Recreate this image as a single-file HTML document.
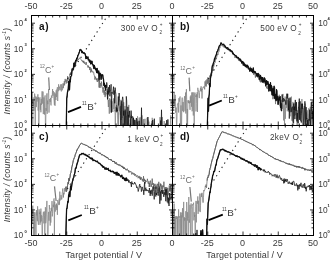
<!DOCTYPE html>
<html><head><meta charset="utf-8"><style>
html,body{margin:0;padding:0;background:#fff;width:333px;height:261px;overflow:hidden}
svg{display:block}
</style></head><body>
<svg width="333" height="261" viewBox="0 0 333 261">
<defs><clipPath id="c3115"><rect x="31.5" y="15.5" width="141" height="110"/></clipPath><clipPath id="c17215"><rect x="172.5" y="15.5" width="141" height="110"/></clipPath><clipPath id="c31125"><rect x="31.5" y="125.5" width="141" height="110"/></clipPath><clipPath id="c172125"><rect x="172.5" y="125.5" width="141" height="110"/></clipPath><linearGradient id="g0" gradientUnits="userSpaceOnUse" x1="31" y1="0" x2="172" y2="0"><stop offset="0.000" stop-color="#858585"/><stop offset="0.206" stop-color="#858585"/><stop offset="0.291" stop-color="#5a5a5a"/><stop offset="0.489" stop-color="#5a5a5a"/><stop offset="0.596" stop-color="#858585"/><stop offset="1.000" stop-color="#858585"/></linearGradient><linearGradient id="g1" gradientUnits="userSpaceOnUse" x1="172" y1="0" x2="313" y2="0"><stop offset="0.000" stop-color="#858585"/><stop offset="0.199" stop-color="#858585"/><stop offset="0.284" stop-color="#5a5a5a"/><stop offset="0.660" stop-color="#5a5a5a"/><stop offset="0.801" stop-color="#858585"/><stop offset="1.000" stop-color="#858585"/></linearGradient><linearGradient id="g2" gradientUnits="userSpaceOnUse" x1="31" y1="0" x2="172" y2="0"><stop offset="0.000" stop-color="#858585"/><stop offset="0.206" stop-color="#858585"/><stop offset="0.277" stop-color="#5a5a5a"/><stop offset="1.000" stop-color="#5a5a5a"/></linearGradient><linearGradient id="g3" gradientUnits="userSpaceOnUse" x1="172" y1="0" x2="313" y2="0"><stop offset="0.000" stop-color="#858585"/><stop offset="0.199" stop-color="#858585"/><stop offset="0.270" stop-color="#5a5a5a"/><stop offset="1.000" stop-color="#5a5a5a"/></linearGradient></defs>
<g fill="none" stroke-linejoin="round"><polyline clip-path="url(#c3115)" points="31.0,94.1 31.3,111.8 31.6,96.5 31.9,102.7 32.2,92.6 32.5,101.8 32.8,128.0 33.1,97.4 33.4,105.2 33.7,103.3 34.0,110.9 34.3,101.8 34.6,93.6 34.9,95.0 35.2,128.0 35.5,104.1 35.8,96.3 36.1,106.6 36.4,107.1 36.7,97.2 37.0,101.6 37.3,97.9 37.6,99.1 37.9,94.3 38.2,110.6 38.5,97.2 38.8,128.0 39.1,112.4 39.4,100.0 39.7,98.0 40.0,97.3 40.3,109.8 40.6,103.5 40.9,112.3 41.2,98.8 41.5,104.8 41.8,96.1 42.1,91.3 42.4,96.3 42.7,103.6 43.0,91.6 43.3,114.1 43.6,99.7 43.9,97.4 44.2,101.7 44.5,114.5 44.8,97.4 45.1,95.4 45.4,128.0 45.7,128.0 46.0,108.1 46.3,110.8 46.6,97.9 46.9,93.4 47.2,113.8 47.5,100.6 47.8,104.2 48.1,93.9 48.4,92.7 48.7,89.1 49.0,112.6 49.3,99.8 49.6,99.1 49.9,100.2 50.2,101.9 50.5,97.9 50.8,104.5 51.1,105.4 51.4,95.5 51.7,97.1 52.0,97.9 52.3,94.0 52.6,89.1 52.9,95.8 53.2,91.0 53.5,93.1 53.8,98.8 54.1,100.9 54.4,104.9 54.7,92.4 55.0,105.8 55.3,93.6 55.6,94.5 55.9,100.0 56.2,90.3 56.5,96.9 56.8,89.2 57.1,89.5 57.4,87.2 57.7,101.0 58.0,90.3 58.3,91.2 58.6,84.3 58.9,90.5 59.2,88.0 59.5,86.7 59.8,88.7 60.1,89.9 60.4,84.5 60.7,84.6 61.0,90.4 61.3,91.4 61.6,84.5 61.9,84.1 62.2,90.3 62.5,87.0 62.8,87.1 63.1,83.2 63.4,88.2 63.7,83.9 64.0,85.0 64.3,81.1 64.6,85.4 64.9,80.1 65.2,78.9 65.5,81.7 65.8,79.7 66.1,83.6 66.4,82.6 66.7,79.6 67.0,83.1 67.3,81.7 67.6,76.1 67.9,80.6 68.2,78.1 68.5,77.5 68.8,78.7 69.1,79.4 69.4,76.7 69.7,75.0 70.0,73.4 70.3,73.7 70.6,73.6 70.9,72.2 71.2,74.8 71.5,71.0 71.8,70.4 72.1,68.4 72.4,70.3 72.7,69.3 73.0,67.9 73.3,68.6 73.6,69.5 73.9,67.8 74.2,65.3 74.5,64.6 74.8,63.9 75.1,65.6 75.4,63.3 75.7,64.5 76.0,61.7 76.3,62.2 76.6,60.8 76.9,60.7 77.2,60.4 77.5,61.3 77.8,59.1 78.1,59.9 78.4,59.2 78.7,59.3 79.0,58.4 79.3,58.6 79.6,57.9 79.9,57.8 80.2,58.3 80.5,58.8 80.8,59.3 81.1,59.6 81.4,60.3 81.7,60.6 82.0,60.1 82.3,61.2 82.6,60.9 82.9,62.2 83.2,61.2 83.5,62.7 83.8,60.8 84.1,62.5 84.4,63.6 84.7,62.3 85.0,62.8 85.3,63.9 85.6,64.5 85.9,64.7 86.2,62.1 86.5,64.5 86.8,64.7 87.1,65.1 87.4,65.5 87.7,66.1 88.0,67.5 88.3,65.6 88.6,66.8 88.9,67.2 89.2,67.9 89.5,66.9 89.8,70.0 90.1,67.0 90.4,70.4 90.7,72.5 91.0,70.3 91.3,68.5 91.6,71.4 91.9,70.6 92.2,71.7 92.5,72.3 92.8,71.5 93.1,71.9 93.4,72.1 93.7,72.2 94.0,74.8 94.3,75.4 94.6,77.3 94.9,79.6 95.2,78.2 95.5,76.7 95.8,78.5 96.1,79.1 96.4,80.1 96.7,78.4 97.0,81.2 97.3,82.0 97.6,81.2 97.9,78.4 98.2,80.1 98.5,81.2 98.8,80.1 99.1,87.5 99.4,79.5 99.7,80.8 100.0,88.0 100.3,84.7 100.6,83.2 100.9,84.2 101.2,86.3 101.5,81.6 101.8,84.3 102.1,87.9 102.4,87.6 102.7,89.5 103.0,92.6 103.3,87.3 103.6,89.7 103.9,93.7 104.2,94.8 104.5,90.3 104.8,94.6 105.1,97.1 105.4,91.6 105.7,95.5 106.0,94.4 106.3,94.0 106.6,93.0 106.9,92.6 107.2,89.0 107.5,99.5 107.8,90.6 108.1,102.1 108.4,107.0 108.7,100.0 109.0,102.5 109.3,113.7 109.6,98.3 109.9,100.5 110.2,101.0 110.5,100.8 110.8,112.5 111.1,99.2 111.4,107.6 111.7,102.9 112.0,101.4 112.3,104.5 112.6,111.1 112.9,112.0 113.2,102.0 113.5,98.4 113.8,109.1 114.1,106.1 114.4,99.5 114.7,111.2 115.0,110.3 115.3,128.0 115.6,115.2 115.9,106.8 116.2,111.5 116.5,105.0 116.8,106.3 117.1,113.0 117.4,110.1 117.7,119.8 118.0,128.0 118.3,112.4 118.6,128.0 118.9,105.6 119.2,107.1 119.5,111.3 119.8,106.8 120.1,107.5 120.4,114.8 120.7,105.9 121.0,120.0 121.3,118.5 121.6,116.1 121.9,103.8 122.2,109.5 122.5,118.0 122.8,116.5 123.1,128.0 123.4,128.0 123.7,102.2 124.0,116.5 124.3,128.0 124.6,112.9 124.9,106.0 125.2,114.9 125.5,111.1 125.8,128.0 126.1,115.9 126.4,128.0 126.7,128.0 127.0,128.0 127.3,115.6 127.6,116.1 127.9,111.8 128.2,116.3 128.5,116.7 128.8,104.9 129.1,119.4 129.4,128.0 129.7,128.0 130.0,128.0 130.3,118.9 130.6,128.0 130.9,128.0 131.2,128.0 131.5,114.9 131.8,128.0 132.1,118.4 132.4,128.0 132.7,128.0 133.0,128.0 133.3,117.5 133.6,128.0 133.9,128.0 134.2,128.0 134.5,128.0 134.8,128.0 135.1,120.2 135.4,128.0 135.7,128.0 136.0,120.6 136.3,128.0 136.6,118.4 136.9,120.6 137.2,128.0 137.5,116.3 137.8,118.7 138.1,128.0 138.4,128.0 138.7,128.0 139.0,128.0 139.3,117.7 139.6,128.0 139.9,128.0 140.2,117.3 140.5,128.0 140.8,128.0 141.1,128.0 141.4,128.0 141.7,128.0 142.0,115.4 142.3,128.0 142.6,128.0 142.9,128.0 143.2,119.6 143.5,128.0 143.8,119.0 144.1,128.0 144.4,128.0 144.7,128.0 145.0,118.8 145.3,128.0 145.6,128.0 145.9,128.0 146.2,128.0 146.5,128.0 146.8,128.0 147.1,117.7 147.4,128.0 147.7,128.0 148.0,119.8 148.3,128.0 148.6,128.0 148.9,121.6 149.2,128.0 149.5,128.0 149.8,128.0 150.1,128.0 150.4,128.0 150.7,128.0 151.0,128.0 151.3,128.0 151.6,121.2 151.9,128.0 152.2,117.8 152.5,120.1 152.8,128.0 153.1,128.0 153.4,128.0 153.7,128.0 154.0,128.0 154.3,128.0 154.6,128.0 154.9,128.0 155.2,128.0 155.5,128.0 155.8,128.0 156.1,128.0 156.4,128.0 156.7,128.0 157.0,128.0 157.3,128.0 157.6,128.0 157.9,128.0 158.2,128.0 158.5,128.0 158.8,128.0 159.1,128.0 159.4,128.0 159.7,128.0 160.0,117.1 160.3,128.0 160.6,128.0 160.9,128.0 161.2,117.5 161.5,128.0 161.8,128.0 162.1,128.0 162.4,117.1 162.7,128.0 163.0,128.0 163.3,128.0 163.6,128.0 163.9,128.0 164.2,121.0 164.5,128.0 164.8,128.0 165.1,128.0 165.4,128.0 165.7,128.0 166.0,128.0 166.3,128.0 166.6,128.0 166.9,128.0 167.2,128.0 167.5,128.0 167.8,128.0 168.1,128.0 168.4,128.0 168.7,128.0 169.0,128.0 169.3,128.0 169.6,128.0 169.9,128.0 170.2,128.0 170.5,120.4 170.8,115.3 171.1,128.0 171.4,128.0 171.7,128.0 172.0,128.0" stroke="url(#g0)" stroke-width="0.75"/><polyline clip-path="url(#c3115)" points="66.3,128.0 66.7,98.4 67.1,96.5 67.5,92.0 67.9,90.8 68.3,88.5 68.7,81.4 69.1,84.2 69.5,89.9 69.9,79.7 70.3,81.9 70.7,76.6 71.1,76.2 71.5,75.7 71.9,71.7 72.3,69.2 72.7,69.1 73.1,69.5 73.5,67.4 73.9,63.0 74.3,63.0 74.7,66.7 75.1,63.1 75.5,61.1 75.9,60.2 76.3,60.6 76.7,58.1 77.1,58.4 77.5,57.4 77.9,55.2 78.3,54.9 78.7,53.9 79.1,52.8 79.5,51.7 79.9,49.7 80.3,49.5 80.7,50.2 81.1,50.0 81.5,50.5 81.9,52.7 82.3,51.4 82.7,52.2 83.1,53.0 83.5,53.0 83.9,52.8 84.3,52.9 84.7,53.7 85.1,53.7 85.5,55.6 85.9,58.6 86.3,56.3 86.7,58.3 87.1,58.1 87.5,57.9 87.9,56.8 88.3,59.8 88.7,59.2 89.1,60.1 89.5,62.0 89.9,60.2 90.3,61.2 90.7,64.0 91.1,61.7 91.5,63.7 91.9,61.0 92.3,63.7 92.7,64.7 93.1,64.6 93.5,66.9 93.9,68.6 94.3,65.4 94.7,66.8 95.1,68.1 95.5,69.5 95.9,68.7 96.3,70.6 96.7,72.5 97.1,68.4 97.5,72.8 97.9,71.6 98.3,73.1 98.7,70.9 99.1,79.5 99.5,73.8 99.9,73.0 100.3,75.0 100.7,74.0 101.1,79.4 101.5,75.7 101.9,74.8 102.3,74.8 102.7,74.8 103.1,78.3 103.5,79.4 103.9,85.5 104.3,83.0 104.7,86.8 105.1,85.1 105.5,90.1 105.9,85.0" stroke="#111" stroke-width="1.25"/><polyline clip-path="url(#c3115)" points="66.3,128.0 66.7,98.4 67.1,96.5 67.5,92.0 67.9,90.8 68.3,88.5 68.7,81.4 69.1,84.2 69.5,89.9 69.9,79.7 70.3,81.9 70.7,76.6 71.1,76.2 71.5,75.7 71.9,71.7 72.3,69.2 72.7,69.1 73.1,69.5 73.5,67.4 73.9,63.0 74.3,63.0 74.7,66.7 75.1,63.1 75.5,61.1 75.9,60.2 76.3,60.6 76.7,58.1 77.1,58.4 77.5,57.4 77.9,55.2 78.3,54.9 78.7,53.9 79.1,52.8 79.5,51.7 79.9,49.7 80.3,49.5 80.7,50.2 81.1,50.0 81.5,50.5 81.9,52.7 82.3,51.4 82.7,52.2 83.1,53.0 83.5,53.0 83.9,52.8 84.3,52.9 84.7,53.7 85.1,53.7 85.5,55.6 85.9,58.6 86.3,56.3 86.7,58.3 87.1,58.1 87.5,57.9 87.9,56.8 88.3,59.8 88.7,59.2 89.1,60.1 89.5,62.0 89.9,60.2 90.3,61.2 90.7,64.0 91.1,61.7 91.5,63.7 91.9,61.0 92.3,63.7 92.7,64.7 93.1,64.6 93.5,66.9 93.9,68.6 94.3,65.4 94.7,66.8 95.1,68.1 95.5,69.5 95.9,68.7 96.3,70.6 96.7,72.5 97.1,68.4 97.5,72.8 97.9,71.6 98.3,73.1 98.7,70.9 99.1,79.5 99.5,73.8 99.9,73.0 100.3,75.0 100.7,74.0 101.1,79.4 101.5,75.7 101.9,74.8 102.3,74.8 102.7,74.8 103.1,78.3 103.5,79.4 103.9,85.5 104.3,83.0 104.7,86.8 105.1,85.1 105.5,90.1 105.9,85.0 106.3,87.9 106.7,82.4 107.1,84.6 107.5,99.2 107.9,90.9 108.3,94.5 108.7,87.2 109.1,92.5 109.5,85.1 109.9,96.3 110.3,91.7 110.7,90.0 111.1,84.3 111.5,112.5 111.9,92.2 112.3,93.1 112.7,93.5 113.1,90.0 113.5,86.7 113.9,94.7 114.3,90.5 114.7,103.3 115.1,87.6 115.5,91.6 115.9,94.3 116.3,111.7 116.7,107.6 117.1,109.2 117.5,111.4 117.9,106.0 118.3,96.5 118.7,105.5 119.1,93.0 119.5,98.5 119.9,102.2 120.3,110.6 120.7,128.0 121.1,100.5 121.5,101.3 121.9,128.0 122.3,99.3 122.7,96.8 123.1,100.2 123.5,115.5 123.9,110.9 124.3,128.0 124.7,115.0 125.1,109.6 125.5,113.0 125.9,128.0 126.3,96.4 126.7,100.9 127.1,128.0 127.5,128.0 127.9,106.8 128.3,128.0 128.7,114.9 129.1,117.5 129.5,110.9 129.9,115.4 130.3,116.1 130.7,128.0 131.1,110.6 131.5,118.2 131.9,116.9 132.3,117.2 132.7,116.4 133.1,128.0 133.5,117.9 133.9,128.0 134.3,128.0 134.7,119.8 135.1,128.0 135.5,128.0 135.9,128.0 136.3,118.1 136.7,119.1 137.1,121.7 137.5,128.0 137.9,128.0 138.3,128.0 138.7,128.0 139.1,120.8 139.5,128.0 139.9,128.0 140.3,128.0 140.7,128.0 141.1,128.0 141.5,107.7 141.9,128.0 142.3,128.0 142.7,128.0 143.1,128.0 143.5,128.0 143.9,128.0 144.3,128.0 144.7,128.0 145.1,128.0 145.5,128.0 145.9,128.0 146.3,128.0 146.7,128.0 147.1,128.0 147.5,128.0 147.9,117.0 148.3,128.0 148.7,128.0 149.1,128.0 149.5,128.0 149.9,128.0 150.3,128.0 150.7,128.0 151.1,128.0 151.5,128.0 151.9,128.0 152.3,128.0 152.7,120.0 153.1,128.0 153.5,128.0 153.9,128.0 154.3,118.7 154.7,128.0 155.1,128.0 155.5,128.0 155.9,128.0 156.3,128.0 156.7,128.0 157.1,128.0 157.5,128.0 157.9,128.0 158.3,128.0 158.7,128.0 159.1,128.0 159.5,128.0 159.9,128.0 160.3,128.0 160.7,120.5 161.1,128.0 161.5,109.8 161.9,128.0 162.3,128.0 162.7,128.0 163.1,128.0 163.5,128.0 163.9,128.0 164.3,128.0 164.7,128.0 165.1,128.0 165.5,128.0 165.9,128.0 166.3,128.0 166.7,120.1 167.1,128.0 167.5,128.0 167.9,119.4 168.3,128.0 168.7,128.0 169.1,128.0 169.5,128.0 169.9,128.0 170.3,128.0 170.7,128.0 171.1,128.0 171.5,128.0 171.9,128.0" stroke="#111" stroke-width="0.75"/><polyline clip-path="url(#c17215)" points="172.0,105.2 172.3,128.0 172.6,94.3 172.9,110.8 173.2,104.6 173.5,102.7 173.8,97.6 174.1,92.2 174.4,96.2 174.7,106.5 175.0,95.8 175.3,94.9 175.6,112.6 175.9,109.6 176.2,107.6 176.5,128.0 176.8,128.0 177.1,112.5 177.4,103.9 177.7,104.1 178.0,104.0 178.3,102.6 178.6,112.5 178.9,98.2 179.2,101.7 179.5,100.1 179.8,97.0 180.1,96.5 180.4,128.0 180.7,128.0 181.0,105.4 181.3,128.0 181.6,128.0 181.9,101.8 182.2,97.6 182.5,110.3 182.8,111.2 183.1,102.0 183.4,109.1 183.7,112.2 184.0,102.0 184.3,98.7 184.6,96.2 184.9,110.4 185.2,111.2 185.5,92.5 185.8,113.5 186.1,97.8 186.4,89.2 186.7,99.3 187.0,128.0 187.3,108.9 187.6,128.0 187.9,100.4 188.2,102.3 188.5,103.1 188.8,100.2 189.1,103.2 189.4,101.3 189.7,104.6 190.0,109.8 190.3,96.5 190.6,102.8 190.9,95.4 191.2,96.8 191.5,106.7 191.8,92.4 192.1,111.3 192.4,109.9 192.7,92.4 193.0,98.8 193.3,115.5 193.6,97.6 193.9,92.3 194.2,128.0 194.5,96.3 194.8,93.6 195.1,92.7 195.4,96.7 195.7,95.6 196.0,111.4 196.3,103.3 196.6,94.3 196.9,97.0 197.2,92.2 197.5,111.9 197.8,87.8 198.1,90.6 198.4,90.3 198.7,92.1 199.0,95.2 199.3,98.1 199.6,92.5 199.9,90.7 200.2,90.6 200.5,87.9 200.8,91.2 201.1,86.3 201.4,91.4 201.7,88.9 202.0,98.5 202.3,90.3 202.6,89.0 202.9,87.6 203.2,88.0 203.5,86.8 203.8,87.1 204.1,86.4 204.4,87.3 204.7,89.4 205.0,81.4 205.3,86.2 205.6,85.3 205.9,80.3 206.2,86.6 206.5,85.3 206.8,79.3 207.1,79.7 207.4,83.8 207.7,77.5 208.0,83.4 208.3,83.2 208.6,78.6 208.9,85.2 209.2,82.6 209.5,79.4 209.8,75.5 210.1,77.4 210.4,77.6 210.7,74.1 211.0,72.6 211.3,73.2 211.6,75.7 211.9,71.0 212.2,71.0 212.5,69.8 212.8,69.6 213.1,70.6 213.4,66.9 213.7,67.1 214.0,65.4 214.3,64.1 214.6,63.2 214.9,63.0 215.2,62.3 215.5,58.9 215.8,59.6 216.1,58.4 216.4,59.0 216.7,57.1 217.0,56.0 217.3,54.2 217.6,54.2 217.9,55.0 218.2,52.8 218.5,52.1 218.8,51.8 219.1,50.8 219.4,48.9 219.7,48.3 220.0,47.8 220.3,46.4 220.6,45.5 220.9,45.6 221.2,45.1 221.5,44.7 221.8,45.6 222.1,45.4 222.4,45.9 222.7,45.8 223.0,46.7 223.3,46.7 223.6,46.5 223.9,46.3 224.2,47.6 224.5,47.2 224.8,47.5 225.1,47.2 225.4,47.9 225.7,47.1 226.0,48.3 226.3,48.3 226.6,48.5 226.9,49.1 227.2,49.0 227.5,48.5 227.8,48.9 228.1,49.2 228.4,50.3 228.7,48.8 229.0,49.7 229.3,50.5 229.6,49.8 229.9,51.5 230.2,50.7 230.5,50.4 230.8,52.0 231.1,52.0 231.4,52.1 231.7,52.0 232.0,51.8 232.3,52.6 232.6,54.3 232.9,52.8 233.2,53.8 233.5,53.4 233.8,54.8 234.1,54.6 234.4,54.1 234.7,55.5 235.0,57.9 235.3,56.0 235.6,55.2 235.9,56.3 236.2,57.8 236.5,56.8 236.8,56.3 237.1,56.8 237.4,57.8 237.7,57.9 238.0,59.2 238.3,58.3 238.6,60.6 238.9,59.0 239.2,59.3 239.5,58.6 239.8,59.9 240.1,61.4 240.4,61.1 240.7,61.2 241.0,61.2 241.3,62.1 241.6,62.6 241.9,61.1 242.2,62.1 242.5,61.0 242.8,62.8 243.1,63.5 243.4,64.0 243.7,62.7 244.0,63.5 244.3,65.8 244.6,65.0 244.9,63.9 245.2,65.0 245.5,65.9 245.8,65.4 246.1,66.7 246.4,67.7 246.7,66.3 247.0,67.9 247.3,68.4 247.6,66.6 247.9,67.1 248.2,69.4 248.5,69.1 248.8,68.9 249.1,69.4 249.4,67.5 249.7,69.3 250.0,69.7 250.3,68.9 250.6,66.8 250.9,69.4 251.2,71.4 251.5,68.1 251.8,69.4 252.1,71.7 252.4,70.1 252.7,72.6 253.0,73.3 253.3,71.6 253.6,74.7 253.9,73.1 254.2,74.2 254.5,72.5 254.8,74.0 255.1,74.9 255.4,77.6 255.7,75.0 256.0,73.0 256.3,74.6 256.6,73.1 256.9,76.2 257.2,75.0 257.5,77.4 257.8,75.5 258.1,74.3 258.4,76.9 258.7,76.2 259.0,75.6 259.3,78.2 259.6,77.4 259.9,81.4 260.2,77.9 260.5,82.3 260.8,76.8 261.1,79.2 261.4,79.7 261.7,80.0 262.0,80.7 262.3,77.6 262.6,82.6 262.9,79.2 263.2,80.5 263.5,79.6 263.8,81.7 264.1,83.3 264.4,81.8 264.7,80.7 265.0,83.2 265.3,78.6 265.6,86.6 265.9,81.8 266.2,84.5 266.5,87.8 266.8,86.6 267.1,89.0 267.4,88.9 267.7,85.7 268.0,85.7 268.3,81.1 268.6,86.1 268.9,85.6 269.2,87.3 269.5,89.0 269.8,88.6 270.1,91.0 270.4,88.0 270.7,87.4 271.0,87.9 271.3,85.1 271.6,87.7 271.9,92.2 272.2,86.3 272.5,92.1 272.8,99.2 273.1,98.1 273.4,94.5 273.7,92.5 274.0,91.8 274.3,99.2 274.6,87.1 274.9,87.9 275.2,91.9 275.5,104.1 275.8,93.4 276.1,98.9 276.4,95.0 276.7,93.8 277.0,95.4 277.3,90.4 277.6,96.5 277.9,100.5 278.2,96.4 278.5,97.0 278.8,100.3 279.1,94.7 279.4,94.9 279.7,101.3 280.0,103.1 280.3,106.0 280.6,100.2 280.9,102.5 281.2,99.8 281.5,111.3 281.8,104.0 282.1,104.6 282.4,108.8 282.7,100.6 283.0,93.9 283.3,104.0 283.6,120.4 283.9,105.3 284.2,104.6 284.5,128.0 284.8,107.9 285.1,96.5 285.4,118.8 285.7,106.9 286.0,106.8 286.3,101.7 286.6,107.9 286.9,99.7 287.2,111.2 287.5,110.1 287.8,100.2 288.1,105.0 288.4,111.6 288.7,103.4 289.0,105.5 289.3,111.5 289.6,101.3 289.9,104.4 290.2,112.8 290.5,104.7 290.8,116.3 291.1,113.2 291.4,96.6 291.7,119.0 292.0,120.9 292.3,111.1 292.6,110.8 292.9,101.9 293.2,110.8 293.5,128.0 293.8,120.8 294.1,102.6 294.4,116.1 294.7,112.5 295.0,105.9 295.3,103.7 295.6,115.2 295.9,110.6 296.2,107.1 296.5,119.1 296.8,112.8 297.1,128.0 297.4,110.3 297.7,116.3 298.0,128.0 298.3,110.2 298.6,102.0 298.9,118.3 299.2,118.2 299.5,111.4 299.8,107.6 300.1,119.3 300.4,110.8 300.7,115.0 301.0,108.3 301.3,112.9 301.6,111.8 301.9,99.0 302.2,120.8 302.5,128.0 302.8,121.3 303.1,108.0 303.4,119.0 303.7,121.7 304.0,110.7 304.3,106.1 304.6,112.2 304.9,128.0 305.2,107.1 305.5,103.6 305.8,121.1 306.1,122.4 306.4,120.5 306.7,112.3 307.0,120.2 307.3,110.3 307.6,123.7 307.9,113.8 308.2,122.7 308.5,128.0 308.8,108.2 309.1,120.3 309.4,109.2 309.7,110.1 310.0,128.0 310.3,106.8 310.6,123.1 310.9,117.3 311.2,118.7 311.5,118.4 311.8,128.0 312.1,119.8 312.4,104.3 312.7,110.4 313.0,118.7" stroke="url(#g1)" stroke-width="0.75"/><polyline clip-path="url(#c17215)" points="207.3,128.0 207.7,110.6 208.1,98.2 208.5,111.2 208.9,97.1 209.3,94.0 209.7,83.3 210.1,86.6 210.5,78.2 210.9,76.0 211.3,74.2 211.7,72.3 212.1,67.4 212.5,65.2 212.9,65.9 213.3,63.4 213.7,62.1 214.1,61.7 214.5,58.6 214.9,58.8 215.3,56.8 215.7,56.2 216.1,55.1 216.5,54.0 216.9,51.9 217.3,51.4 217.7,51.1 218.1,49.4 218.5,48.4 218.9,47.3 219.3,45.8 219.7,45.4 220.1,45.2 220.5,44.7 220.9,42.8 221.3,43.1 221.7,43.8 222.1,44.2 222.5,44.3 222.9,44.9 223.3,45.0 223.7,44.1 224.1,45.3 224.5,45.6 224.9,46.4 225.3,46.1 225.7,47.0 226.1,47.9 226.5,48.0 226.9,47.9 227.3,48.9 227.7,47.6 228.1,49.0 228.5,49.4 228.9,49.1 229.3,49.7 229.7,50.0 230.1,49.7 230.5,50.4 230.9,51.1 231.3,50.8 231.7,51.6 232.1,51.1 232.5,52.1 232.9,53.7 233.3,53.4 233.7,54.1 234.1,54.6 234.5,54.7 234.9,55.2 235.3,55.6 235.7,55.7 236.1,55.7 236.5,56.7 236.9,57.7 237.3,57.4 237.7,57.9 238.1,57.4 238.5,57.7 238.9,58.9 239.3,59.0 239.7,59.3 240.1,60.5 240.5,59.0 240.9,61.1 241.3,60.9 241.7,63.1 242.1,61.3 242.5,62.8 242.9,61.7 243.3,65.2 243.7,62.6 244.1,63.7 244.5,65.8 244.9,64.3 245.3,65.6 245.7,66.6 246.1,65.6 246.5,65.1 246.9,67.1 247.3,65.1 247.7,66.8 248.1,66.1 248.5,68.0 248.9,68.8 249.3,68.7 249.7,71.2 250.1,70.2 250.5,68.9 250.9,68.5 251.3,71.1 251.7,69.4 252.1,70.6 252.5,72.3 252.9,71.1 253.3,67.9 253.7,71.8 254.1,72.5 254.5,72.1 254.9,71.4 255.3,72.1 255.7,72.9 256.1,73.2 256.5,74.2 256.9,76.2 257.3,73.9 257.7,76.1 258.1,73.3 258.5,75.4 258.9,74.4 259.3,79.5 259.7,76.6 260.1,77.7 260.5,75.4 260.9,78.9 261.3,77.6 261.7,77.4 262.1,82.0 262.5,77.6 262.9,77.8 263.3,82.1 263.7,81.7 264.1,81.2 264.5,77.8 264.9,81.3 265.3,81.2 265.7,85.5 266.1,82.5 266.5,80.6 266.9,84.3 267.3,81.4 267.7,82.2 268.1,84.3 268.5,84.0 268.9,91.1 269.3,88.4 269.7,84.7 270.1,87.9 270.5,82.7 270.9,91.0 271.3,85.7 271.7,90.3 272.1,94.9 272.5,90.1 272.9,88.7 273.3,95.5 273.7,93.6 274.1,86.2 274.5,98.2 274.9,94.6 275.3,94.6 275.7,98.3 276.1,100.7 276.5,89.5 276.9,99.7 277.3,98.4 277.7,96.4 278.1,104.4 278.5,100.7 278.9,100.1 279.3,97.7 279.7,98.5 280.1,96.5 280.5,107.3 280.9,103.2 281.3,110.2 281.7,110.9" stroke="#111" stroke-width="1.2"/><polyline clip-path="url(#c17215)" points="207.3,128.0 207.7,110.6 208.1,98.2 208.5,111.2 208.9,97.1 209.3,94.0 209.7,83.3 210.1,86.6 210.5,78.2 210.9,76.0 211.3,74.2 211.7,72.3 212.1,67.4 212.5,65.2 212.9,65.9 213.3,63.4 213.7,62.1 214.1,61.7 214.5,58.6 214.9,58.8 215.3,56.8 215.7,56.2 216.1,55.1 216.5,54.0 216.9,51.9 217.3,51.4 217.7,51.1 218.1,49.4 218.5,48.4 218.9,47.3 219.3,45.8 219.7,45.4 220.1,45.2 220.5,44.7 220.9,42.8 221.3,43.1 221.7,43.8 222.1,44.2 222.5,44.3 222.9,44.9 223.3,45.0 223.7,44.1 224.1,45.3 224.5,45.6 224.9,46.4 225.3,46.1 225.7,47.0 226.1,47.9 226.5,48.0 226.9,47.9 227.3,48.9 227.7,47.6 228.1,49.0 228.5,49.4 228.9,49.1 229.3,49.7 229.7,50.0 230.1,49.7 230.5,50.4 230.9,51.1 231.3,50.8 231.7,51.6 232.1,51.1 232.5,52.1 232.9,53.7 233.3,53.4 233.7,54.1 234.1,54.6 234.5,54.7 234.9,55.2 235.3,55.6 235.7,55.7 236.1,55.7 236.5,56.7 236.9,57.7 237.3,57.4 237.7,57.9 238.1,57.4 238.5,57.7 238.9,58.9 239.3,59.0 239.7,59.3 240.1,60.5 240.5,59.0 240.9,61.1 241.3,60.9 241.7,63.1 242.1,61.3 242.5,62.8 242.9,61.7 243.3,65.2 243.7,62.6 244.1,63.7 244.5,65.8 244.9,64.3 245.3,65.6 245.7,66.6 246.1,65.6 246.5,65.1 246.9,67.1 247.3,65.1 247.7,66.8 248.1,66.1 248.5,68.0 248.9,68.8 249.3,68.7 249.7,71.2 250.1,70.2 250.5,68.9 250.9,68.5 251.3,71.1 251.7,69.4 252.1,70.6 252.5,72.3 252.9,71.1 253.3,67.9 253.7,71.8 254.1,72.5 254.5,72.1 254.9,71.4 255.3,72.1 255.7,72.9 256.1,73.2 256.5,74.2 256.9,76.2 257.3,73.9 257.7,76.1 258.1,73.3 258.5,75.4 258.9,74.4 259.3,79.5 259.7,76.6 260.1,77.7 260.5,75.4 260.9,78.9 261.3,77.6 261.7,77.4 262.1,82.0 262.5,77.6 262.9,77.8 263.3,82.1 263.7,81.7 264.1,81.2 264.5,77.8 264.9,81.3 265.3,81.2 265.7,85.5 266.1,82.5 266.5,80.6 266.9,84.3 267.3,81.4 267.7,82.2 268.1,84.3 268.5,84.0 268.9,91.1 269.3,88.4 269.7,84.7 270.1,87.9 270.5,82.7 270.9,91.0 271.3,85.7 271.7,90.3 272.1,94.9 272.5,90.1 272.9,88.7 273.3,95.5 273.7,93.6 274.1,86.2 274.5,98.2 274.9,94.6 275.3,94.6 275.7,98.3 276.1,100.7 276.5,89.5 276.9,99.7 277.3,98.4 277.7,96.4 278.1,104.4 278.5,100.7 278.9,100.1 279.3,97.7 279.7,98.5 280.1,96.5 280.5,107.3 280.9,103.2 281.3,110.2 281.7,110.9 282.1,94.5 282.5,98.8 282.9,102.0 283.3,98.6 283.7,98.1 284.1,101.3 284.5,99.5 284.9,99.8 285.3,100.5 285.7,104.6 286.1,104.5 286.5,96.7 286.9,93.7 287.3,98.5 287.7,93.8 288.1,103.2 288.5,110.2 288.9,98.3 289.3,118.6 289.7,107.0 290.1,97.5 290.5,102.8 290.9,111.6 291.3,112.1 291.7,107.8 292.1,107.2 292.5,106.7 292.9,121.4 293.3,122.9 293.7,103.5 294.1,110.0 294.5,106.7 294.9,119.1 295.3,99.9 295.7,108.6 296.1,111.0 296.5,102.2 296.9,121.4 297.3,113.0 297.7,119.3 298.1,123.0 298.5,107.0 298.9,107.1 299.3,98.6 299.7,119.9 300.1,101.3 300.5,120.6 300.9,120.2 301.3,122.5 301.7,103.7 302.1,108.9 302.5,103.7 302.9,111.0 303.3,121.1 303.7,128.0 304.1,120.7 304.5,105.7 304.9,101.3 305.3,108.8 305.7,128.0 306.1,107.1 306.5,119.0 306.9,118.5 307.3,128.0 307.7,120.0 308.1,128.0 308.5,128.0 308.9,119.2 309.3,120.5 309.7,109.8 310.1,120.5 310.5,128.0 310.9,111.6 311.3,102.1 311.7,114.7 312.1,119.1 312.5,111.1 312.9,128.0" stroke="#111" stroke-width="0.75"/><polyline clip-path="url(#c31125)" points="66.1,186.6 66.4,191.6 66.7,191.0 67.0,188.6 67.3,187.5 67.6,185.3 67.9,183.1 68.2,182.2 68.5,183.9 68.8,178.4 69.1,180.4 69.4,180.7 69.7,177.8 70.0,177.7 70.3,174.1 70.6,173.3 70.9,172.7 71.2,170.7 71.5,170.2 71.8,167.0 72.1,166.3 72.4,165.0 72.7,163.5 73.0,162.2 73.3,160.5 73.6,159.6 73.9,159.1 74.2,157.8 74.5,157.4 74.8,156.8 75.1,155.2 75.4,154.3 75.7,153.6 76.0,152.8 76.3,152.2 76.6,151.2 76.9,149.8 77.2,150.0 77.5,149.4 77.8,148.7 78.1,148.0 78.4,147.5 78.7,147.5 79.0,146.5 79.3,146.2 79.6,145.2 79.9,144.8 80.2,144.7 80.5,144.3 80.8,143.5 81.1,143.3 81.4,143.2 81.7,143.5 82.0,143.8 82.3,143.9 82.6,143.8 82.9,143.9 83.2,144.1 83.5,144.2 83.8,144.5 84.1,144.4 84.4,144.5 84.7,144.9 85.0,144.9 85.3,145.0 85.6,145.2 85.9,145.0 86.2,145.0 86.5,145.5 86.8,145.6 87.1,146.0 87.4,145.8 87.7,146.1 88.0,146.6 88.3,146.5 88.6,146.9 88.9,146.8 89.2,147.5 89.5,147.2 89.8,147.4 90.1,147.2 90.4,148.1 90.7,147.9 91.0,148.3 91.3,148.4 91.6,148.4 91.9,148.6 92.2,148.9 92.5,148.8 92.8,149.1 93.1,149.4 93.4,149.6 93.7,149.7 94.0,150.3 94.3,149.8 94.6,150.2 94.9,150.3 95.2,150.4 95.5,150.6 95.8,151.4 96.1,150.7 96.4,151.1 96.7,151.4 97.0,151.4 97.3,152.0 97.6,151.9 97.9,152.6 98.2,152.6 98.5,152.6 98.8,152.7 99.1,153.2 99.4,153.4 99.7,152.9 100.0,153.2 100.3,153.1 100.6,153.8 100.9,154.2 101.2,154.3 101.5,154.3 101.8,155.1 102.1,154.9 102.4,154.7 102.7,154.9 103.0,154.8 103.3,155.4 103.6,155.5 103.9,155.9 104.2,155.8 104.5,155.8 104.8,155.8 105.1,156.8 105.4,156.7 105.7,156.2 106.0,156.9 106.3,157.7 106.6,157.5 106.9,157.8 107.2,157.3 107.5,158.1 107.8,157.8 108.1,158.1 108.4,158.8 108.7,159.2 109.0,159.4 109.3,159.0 109.6,159.3 109.9,159.9 110.2,159.6 110.5,159.8 110.8,159.8 111.1,159.4 111.4,160.5 111.7,160.5 112.0,160.7 112.3,161.1 112.6,161.6 112.9,160.9 113.2,162.0 113.5,161.3 113.8,161.8 114.1,161.2 114.4,161.8 114.7,161.7 115.0,163.5 115.3,163.3 115.6,163.4 115.9,163.4 116.2,162.6 116.5,163.3 116.8,163.4 117.1,164.6 117.4,164.3 117.7,164.6 118.0,164.5 118.3,164.6 118.6,164.8 118.9,165.3 119.2,164.6 119.5,165.2 119.8,165.5 120.1,165.3 120.4,165.3 120.7,165.5 121.0,166.2 121.3,166.3 121.6,167.0 121.9,165.9 122.2,167.2 122.5,167.4 122.8,167.4 123.1,166.8 123.4,167.5 123.7,167.1 124.0,169.0 124.3,167.7 124.6,168.4 124.9,169.0" stroke="#5a5a5a" stroke-width="0.95"/><polyline clip-path="url(#c31125)" points="31.0,238.0 31.3,214.3 31.6,221.3 31.9,206.1 32.2,223.3 32.5,223.1 32.8,205.6 33.1,221.3 33.4,238.0 33.7,238.0 34.0,211.9 34.3,238.0 34.6,213.8 34.9,212.3 35.2,212.8 35.5,223.9 35.8,238.0 36.1,238.0 36.4,210.1 36.7,215.4 37.0,212.1 37.3,221.2 37.6,206.3 37.9,219.2 38.2,224.3 38.5,224.9 38.8,215.0 39.1,209.3 39.4,213.9 39.7,212.6 40.0,224.8 40.3,211.5 40.6,222.5 40.9,208.6 41.2,221.4 41.5,215.3 41.8,216.4 42.1,238.0 42.4,238.0 42.7,217.6 43.0,215.0 43.3,211.9 43.6,212.3 43.9,223.4 44.2,211.4 44.5,215.6 44.8,238.0 45.1,223.5 45.4,207.2 45.7,223.3 46.0,221.4 46.3,215.0 46.6,207.2 46.9,200.9 47.2,214.4 47.5,238.0 47.8,238.0 48.1,238.0 48.4,214.0 48.7,211.9 49.0,220.7 49.3,205.0 49.6,208.6 49.9,208.1 50.2,225.6 50.5,211.4 50.8,222.6 51.1,213.7 51.4,207.8 51.7,211.2 52.0,201.1 52.3,216.4 52.6,213.4 52.9,209.2 53.2,204.7 53.5,207.2 53.8,199.2 54.1,198.4 54.4,238.0 54.7,201.6 55.0,207.1 55.3,211.6 55.6,207.3 55.9,204.6 56.2,208.2 56.5,203.6 56.8,210.1 57.1,205.4 57.4,214.8 57.7,200.0 58.0,201.2 58.3,201.8 58.6,204.5 58.9,205.1 59.2,198.6 59.5,204.6 59.8,191.6 60.1,200.3 60.4,200.3 60.7,199.5 61.0,195.1 61.3,196.5 61.6,199.4 61.9,199.3 62.2,193.1 62.5,191.3 62.8,188.5 63.1,191.9 63.4,197.5 63.7,193.1 64.0,194.3 64.3,191.8 64.6,191.5 64.9,188.0 65.2,191.5 65.5,187.2 65.8,188.4 66.1,186.6 66.4,191.6 66.7,191.0 67.0,188.6 67.3,187.5 67.6,185.3 67.9,183.1 68.2,182.2 68.5,183.9 68.8,178.4 69.1,180.4 69.4,180.7 69.7,177.8 70.0,177.7 70.3,174.1 70.6,173.3 70.9,172.7 71.2,170.7 71.5,170.2 71.8,167.0 72.1,166.3 72.4,165.0 72.7,163.5 73.0,162.2 73.3,160.5 73.6,159.6 73.9,159.1 74.2,157.8 74.5,157.4 74.8,156.8 75.1,155.2 75.4,154.3 75.7,153.6 76.0,152.8 76.3,152.2 76.6,151.2 76.9,149.8 77.2,150.0 77.5,149.4 77.8,148.7 78.1,148.0 78.4,147.5 78.7,147.5 79.0,146.5 79.3,146.2 79.6,145.2 79.9,144.8 80.2,144.7 80.5,144.3 80.8,143.5 81.1,143.3 81.4,143.2 81.7,143.5 82.0,143.8 82.3,143.9 82.6,143.8 82.9,143.9 83.2,144.1 83.5,144.2 83.8,144.5 84.1,144.4 84.4,144.5 84.7,144.9 85.0,144.9 85.3,145.0 85.6,145.2 85.9,145.0 86.2,145.0 86.5,145.5 86.8,145.6 87.1,146.0 87.4,145.8 87.7,146.1 88.0,146.6 88.3,146.5 88.6,146.9 88.9,146.8 89.2,147.5 89.5,147.2 89.8,147.4 90.1,147.2 90.4,148.1 90.7,147.9 91.0,148.3 91.3,148.4 91.6,148.4 91.9,148.6 92.2,148.9 92.5,148.8 92.8,149.1 93.1,149.4 93.4,149.6 93.7,149.7 94.0,150.3 94.3,149.8 94.6,150.2 94.9,150.3 95.2,150.4 95.5,150.6 95.8,151.4 96.1,150.7 96.4,151.1 96.7,151.4 97.0,151.4 97.3,152.0 97.6,151.9 97.9,152.6 98.2,152.6 98.5,152.6 98.8,152.7 99.1,153.2 99.4,153.4 99.7,152.9 100.0,153.2 100.3,153.1 100.6,153.8 100.9,154.2 101.2,154.3 101.5,154.3 101.8,155.1 102.1,154.9 102.4,154.7 102.7,154.9 103.0,154.8 103.3,155.4 103.6,155.5 103.9,155.9 104.2,155.8 104.5,155.8 104.8,155.8 105.1,156.8 105.4,156.7 105.7,156.2 106.0,156.9 106.3,157.7 106.6,157.5 106.9,157.8 107.2,157.3 107.5,158.1 107.8,157.8 108.1,158.1 108.4,158.8 108.7,159.2 109.0,159.4 109.3,159.0 109.6,159.3 109.9,159.9 110.2,159.6 110.5,159.8 110.8,159.8 111.1,159.4 111.4,160.5 111.7,160.5 112.0,160.7 112.3,161.1 112.6,161.6 112.9,160.9 113.2,162.0 113.5,161.3 113.8,161.8 114.1,161.2 114.4,161.8 114.7,161.7 115.0,163.5 115.3,163.3 115.6,163.4 115.9,163.4 116.2,162.6 116.5,163.3 116.8,163.4 117.1,164.6 117.4,164.3 117.7,164.6 118.0,164.5 118.3,164.6 118.6,164.8 118.9,165.3 119.2,164.6 119.5,165.2 119.8,165.5 120.1,165.3 120.4,165.3 120.7,165.5 121.0,166.2 121.3,166.3 121.6,167.0 121.9,165.9 122.2,167.2 122.5,167.4 122.8,167.4 123.1,166.8 123.4,167.5 123.7,167.1 124.0,169.0 124.3,167.7 124.6,168.4 124.9,169.0 125.2,169.0 125.5,168.7 125.8,170.1 126.1,169.0 126.4,170.3 126.7,169.5 127.0,169.1 127.3,168.7 127.6,170.2 127.9,170.1 128.2,170.8 128.5,170.1 128.8,172.4 129.1,170.7 129.4,171.5 129.7,172.3 130.0,171.8 130.3,171.1 130.6,171.5 130.9,172.3 131.2,171.7 131.5,172.4 131.8,174.5 132.1,173.2 132.4,173.3 132.7,172.5 133.0,174.0 133.3,173.4 133.6,173.7 133.9,174.8 134.2,173.3 134.5,174.3 134.8,175.9 135.1,175.5 135.4,174.0 135.7,174.6 136.0,175.0 136.3,177.0 136.6,176.8 136.9,176.5 137.2,175.3 137.5,175.7 137.8,176.4 138.1,178.2 138.4,177.9 138.7,177.0 139.0,175.9 139.3,178.1 139.6,178.3 139.9,176.5 140.2,179.3 140.5,177.6 140.8,179.9 141.1,177.6 141.4,177.3 141.7,178.7 142.0,178.7 142.3,180.6 142.6,179.2 142.9,181.4 143.2,181.7 143.5,176.2 143.8,181.6 144.1,180.7 144.4,178.8 144.7,180.9 145.0,179.8 145.3,183.5 145.6,180.2 145.9,181.6 146.2,182.0 146.5,181.6 146.8,181.4 147.1,181.3 147.4,178.8 147.7,180.4 148.0,183.1 148.3,183.9 148.6,183.6 148.9,181.3 149.2,187.0 149.5,183.1 149.8,186.9 150.1,182.1 150.4,180.6 150.7,182.0 151.0,184.9 151.3,186.9 151.6,183.9 151.9,184.2 152.2,178.6 152.5,183.7 152.8,184.8 153.1,183.0 153.4,184.8 153.7,189.5 154.0,183.7 154.3,185.9 154.6,184.6 154.9,184.2 155.2,184.0 155.5,184.3 155.8,188.7 156.1,188.8 156.4,185.2 156.7,185.1 157.0,185.1 157.3,183.8 157.6,184.4 157.9,186.6 158.2,183.8 158.5,187.1 158.8,181.8 159.1,192.4 159.4,186.6 159.7,185.8 160.0,190.9 160.3,183.5 160.6,186.3 160.9,183.9 161.2,185.8 161.5,185.8 161.8,189.0 162.1,185.5 162.4,193.6 162.7,189.8 163.0,185.6 163.3,187.0 163.6,186.8 163.9,181.7 164.2,187.2 164.5,189.2 164.8,191.5 165.1,187.1 165.4,190.4 165.7,189.2 166.0,187.1 166.3,195.0 166.6,189.8 166.9,187.4 167.2,202.3 167.5,190.7 167.8,188.0 168.1,195.2 168.4,192.1 168.7,191.1 169.0,190.0 169.3,185.4 169.6,191.3 169.9,188.3 170.2,191.5 170.5,185.4 170.8,187.8 171.1,188.8 171.4,189.0 171.7,193.7 172.0,191.6" stroke="url(#g2)" stroke-width="0.75"/><polyline clip-path="url(#c31125)" points="65.8,238.0 66.2,223.2 66.6,208.6 67.0,208.7 67.4,204.9 67.8,201.4 68.2,202.2 68.6,195.4 69.0,194.3 69.4,191.9 69.8,196.7 70.2,191.7 70.6,185.8 71.0,190.1 71.4,188.2 71.8,184.9 72.2,182.6 72.6,180.9 73.0,179.1 73.4,178.1 73.8,177.2 74.2,175.0 74.6,173.7 75.0,172.1 75.4,168.5 75.8,167.8 76.2,168.1 76.6,165.4 77.0,164.0 77.4,162.7 77.8,161.7 78.2,159.8 78.6,158.4 79.0,157.2 79.4,155.7 79.8,154.7 80.2,154.5 80.6,154.5 81.0,154.6 81.4,153.9 81.8,153.3 82.2,153.9 82.6,153.7 83.0,153.6 83.4,153.4 83.8,153.9 84.2,154.6 84.6,154.7 85.0,154.3 85.4,154.4 85.8,155.2 86.2,155.7 86.6,155.2 87.0,155.1 87.4,156.3 87.8,155.9 88.2,156.3 88.6,156.9 89.0,157.2 89.4,157.0 89.8,158.0 90.2,158.2 90.6,158.6 91.0,157.8 91.4,158.3 91.8,159.1 92.2,158.2 92.6,158.8 93.0,160.6 93.4,160.0 93.8,160.1 94.2,160.4 94.6,160.4 95.0,160.6 95.4,160.9 95.8,160.9 96.2,161.6 96.6,161.5 97.0,161.6 97.4,161.1 97.8,162.0 98.2,162.7 98.6,163.1 99.0,163.2 99.4,163.4 99.8,163.2 100.2,164.1 100.6,164.3 101.0,164.9 101.4,165.5 101.8,165.2 102.2,166.2 102.6,165.8 103.0,167.4 103.4,166.8 103.8,166.6 104.2,167.5 104.6,168.1 105.0,169.2 105.4,168.5 105.8,167.8 106.2,169.3 106.6,168.2 107.0,169.2 107.4,169.1 107.8,169.1 108.2,168.4 108.6,170.5 109.0,170.1 109.4,170.5 109.8,170.8 110.2,170.1 110.6,171.6 111.0,171.2 111.4,171.6 111.8,171.7 112.2,171.1 112.6,171.3 113.0,172.0 113.4,171.5 113.8,171.9 114.2,173.4 114.6,172.9 115.0,173.0 115.4,173.1 115.8,172.3 116.2,175.0 116.6,174.5 117.0,172.2 117.4,174.9 117.8,174.0 118.2,175.4 118.6,173.5 119.0,174.4 119.4,174.8 119.8,175.5 120.2,175.7 120.6,176.9 121.0,176.3 121.4,175.7 121.8,175.1 122.2,177.0 122.6,178.5 123.0,177.5 123.4,177.4 123.8,178.9 124.2,178.2 124.6,180.1 125.0,178.4 125.4,180.4 125.8,180.7 126.2,177.9 126.6,178.2 127.0,180.5 127.4,179.9 127.8,180.4" stroke="#111" stroke-width="1.25"/><polyline clip-path="url(#c31125)" points="65.8,238.0 66.2,223.2 66.6,208.6 67.0,208.7 67.4,204.9 67.8,201.4 68.2,202.2 68.6,195.4 69.0,194.3 69.4,191.9 69.8,196.7 70.2,191.7 70.6,185.8 71.0,190.1 71.4,188.2 71.8,184.9 72.2,182.6 72.6,180.9 73.0,179.1 73.4,178.1 73.8,177.2 74.2,175.0 74.6,173.7 75.0,172.1 75.4,168.5 75.8,167.8 76.2,168.1 76.6,165.4 77.0,164.0 77.4,162.7 77.8,161.7 78.2,159.8 78.6,158.4 79.0,157.2 79.4,155.7 79.8,154.7 80.2,154.5 80.6,154.5 81.0,154.6 81.4,153.9 81.8,153.3 82.2,153.9 82.6,153.7 83.0,153.6 83.4,153.4 83.8,153.9 84.2,154.6 84.6,154.7 85.0,154.3 85.4,154.4 85.8,155.2 86.2,155.7 86.6,155.2 87.0,155.1 87.4,156.3 87.8,155.9 88.2,156.3 88.6,156.9 89.0,157.2 89.4,157.0 89.8,158.0 90.2,158.2 90.6,158.6 91.0,157.8 91.4,158.3 91.8,159.1 92.2,158.2 92.6,158.8 93.0,160.6 93.4,160.0 93.8,160.1 94.2,160.4 94.6,160.4 95.0,160.6 95.4,160.9 95.8,160.9 96.2,161.6 96.6,161.5 97.0,161.6 97.4,161.1 97.8,162.0 98.2,162.7 98.6,163.1 99.0,163.2 99.4,163.4 99.8,163.2 100.2,164.1 100.6,164.3 101.0,164.9 101.4,165.5 101.8,165.2 102.2,166.2 102.6,165.8 103.0,167.4 103.4,166.8 103.8,166.6 104.2,167.5 104.6,168.1 105.0,169.2 105.4,168.5 105.8,167.8 106.2,169.3 106.6,168.2 107.0,169.2 107.4,169.1 107.8,169.1 108.2,168.4 108.6,170.5 109.0,170.1 109.4,170.5 109.8,170.8 110.2,170.1 110.6,171.6 111.0,171.2 111.4,171.6 111.8,171.7 112.2,171.1 112.6,171.3 113.0,172.0 113.4,171.5 113.8,171.9 114.2,173.4 114.6,172.9 115.0,173.0 115.4,173.1 115.8,172.3 116.2,175.0 116.6,174.5 117.0,172.2 117.4,174.9 117.8,174.0 118.2,175.4 118.6,173.5 119.0,174.4 119.4,174.8 119.8,175.5 120.2,175.7 120.6,176.9 121.0,176.3 121.4,175.7 121.8,175.1 122.2,177.0 122.6,178.5 123.0,177.5 123.4,177.4 123.8,178.9 124.2,178.2 124.6,180.1 125.0,178.4 125.4,180.4 125.8,180.7 126.2,177.9 126.6,178.2 127.0,180.5 127.4,179.9 127.8,180.4 128.2,179.5 128.6,182.4 129.0,180.2 129.4,182.3 129.8,182.8 130.2,183.2 130.6,182.0 131.0,184.0 131.4,186.9 131.8,181.5 132.2,184.2 132.6,183.0 133.0,183.8 133.4,184.1 133.8,184.1 134.2,184.0 134.6,182.1 135.0,183.3 135.4,183.3 135.8,184.8 136.2,184.9 136.6,187.7 137.0,186.7 137.4,187.9 137.8,187.8 138.2,191.5 138.6,189.9 139.0,188.1 139.4,185.0 139.8,184.1 140.2,187.3 140.6,186.3 141.0,187.0 141.4,191.6 141.8,189.2 142.2,186.9 142.6,188.6 143.0,190.4 143.4,190.0 143.8,194.8 144.2,187.0 144.6,182.1 145.0,191.1 145.4,188.1 145.8,187.7 146.2,190.5 146.6,189.5 147.0,191.1 147.4,190.0 147.8,190.3 148.2,190.7 148.6,190.5 149.0,192.8 149.4,188.0 149.8,191.2 150.2,195.9 150.6,190.6 151.0,193.9 151.4,190.2 151.8,189.7 152.2,195.7 152.6,189.3 153.0,186.4 153.4,189.8 153.8,191.2 154.2,199.4 154.6,191.5 155.0,186.5 155.4,189.7 155.8,196.5 156.2,192.9 156.6,195.0 157.0,186.6 157.4,191.4 157.8,193.6 158.2,195.7 158.6,191.4 159.0,187.4 159.4,192.0 159.8,203.8 160.2,198.0 160.6,191.3 161.0,200.4 161.4,189.7 161.8,191.9 162.2,193.1 162.6,193.7 163.0,190.0 163.4,194.2 163.8,196.9 164.2,192.1 164.6,194.2 165.0,195.2 165.4,189.5 165.8,201.2 166.2,193.2 166.6,189.3 167.0,194.0 167.4,196.5 167.8,200.4 168.2,203.4 168.6,197.7 169.0,206.0 169.4,193.0 169.8,200.4 170.2,198.7 170.6,198.9 171.0,193.3 171.4,195.3 171.8,200.4" stroke="#111" stroke-width="0.75"/><polyline clip-path="url(#c172125)" points="207.1,180.7 207.4,178.1 207.7,177.2 208.0,177.7 208.3,175.5 208.6,176.1 208.9,174.9 209.2,174.0 209.5,170.4 209.8,169.8 210.1,168.1 210.4,167.8 210.7,166.2 211.0,164.6 211.3,163.6 211.6,162.1 211.9,160.8 212.2,159.9 212.5,158.7 212.8,158.4 213.1,156.6 213.4,155.5 213.7,154.3 214.0,153.1 214.3,152.1 214.6,150.7 214.9,149.8 215.2,148.5 215.5,147.6 215.8,146.2 216.1,145.2 216.4,144.2 216.7,142.8 217.0,141.7 217.3,140.8 217.6,140.4 217.9,139.8 218.2,139.0 218.5,138.5 218.8,137.8 219.1,137.5 219.4,136.8 219.7,136.3 220.0,135.6 220.3,135.2 220.6,134.3 220.9,133.9 221.2,133.2 221.5,132.6 221.8,131.9 222.1,131.7 222.4,131.8 222.7,131.8 223.0,132.2 223.3,132.1 223.6,132.3 223.9,132.3 224.2,132.4 224.5,132.8 224.8,132.6 225.1,132.8 225.4,132.8 225.7,132.8 226.0,133.1 226.3,133.2 226.6,133.2 226.9,133.3 227.2,133.5 227.5,133.8 227.8,133.8 228.1,133.8 228.4,134.0 228.7,134.0 229.0,134.2 229.3,134.3 229.6,134.3 229.9,134.5 230.2,134.5 230.5,134.9 230.8,135.0 231.1,135.0 231.4,135.1 231.7,135.2 232.0,135.4 232.3,135.6 232.6,135.7 232.9,135.7 233.2,135.8 233.5,136.0 233.8,136.1 234.1,136.2 234.4,136.3 234.7,136.6 235.0,136.5 235.3,136.7 235.6,136.9 235.9,136.7 236.2,136.8 236.5,137.1 236.8,137.4 237.1,137.3 237.4,137.4 237.7,137.9 238.0,137.8 238.3,137.9 238.6,138.0 238.9,137.9 239.2,138.2 239.5,138.3 239.8,138.2 240.1,138.6 240.4,138.6 240.7,138.7 241.0,138.7 241.3,139.1 241.6,139.4 241.9,139.2 242.2,139.4 242.5,139.9 242.8,139.6 243.1,140.0 243.4,140.1 243.7,140.4 244.0,140.6 244.3,140.5 244.6,140.7 244.9,140.7 245.2,140.9 245.5,140.9 245.8,141.4 246.1,141.3 246.4,141.5 246.7,141.7 247.0,141.7 247.3,142.1 247.6,142.1 247.9,142.2 248.2,142.5 248.5,142.4 248.8,142.9 249.1,143.0 249.4,142.9 249.7,143.2 250.0,143.2 250.3,143.4 250.6,143.3 250.9,143.7 251.2,143.9 251.5,143.8 251.8,143.9 252.1,144.2 252.4,144.3 252.7,144.9 253.0,144.6 253.3,144.6 253.6,145.0 253.9,145.2 254.2,145.3 254.5,146.0 254.8,145.6 255.1,146.0 255.4,146.3 255.7,146.4 256.0,146.7 256.3,147.2 256.6,147.0 256.9,147.3 257.2,147.4 257.5,147.7 257.8,148.0 258.1,148.1 258.4,148.4 258.7,148.6 259.0,148.7 259.3,148.9 259.6,149.7 259.9,149.6 260.2,149.3 260.5,149.8 260.8,149.9 261.1,150.4 261.4,150.4 261.7,150.5 262.0,151.1 262.3,151.2 262.6,151.6 262.9,151.7 263.2,151.9 263.5,151.7 263.8,152.1 264.1,152.1 264.4,152.3 264.7,152.4 265.0,152.8 265.3,153.2 265.6,153.0 265.9,153.3 266.2,153.3 266.5,153.4 266.8,153.7 267.1,153.6 267.4,154.2 267.7,154.4 268.0,154.5 268.3,154.6 268.6,155.2 268.9,155.6 269.2,155.9 269.5,155.5 269.8,155.7 270.1,155.9 270.4,155.8 270.7,156.3 271.0,156.2 271.3,156.8 271.6,156.5 271.9,156.4 272.2,157.2 272.5,157.5 272.8,157.9 273.1,157.6 273.4,157.7 273.7,157.8 274.0,158.1 274.3,158.6 274.6,158.8 274.9,158.7 275.2,158.4 275.5,158.8 275.8,158.7 276.1,159.8 276.4,159.5 276.7,159.8 277.0,159.2 277.3,159.3 277.6,159.7 277.9,159.5 278.2,159.8 278.5,159.8 278.8,160.0 279.1,160.0 279.4,160.9 279.7,160.5 280.0,160.5 280.3,161.3 280.6,160.5 280.9,160.6 281.2,161.0 281.5,161.4 281.8,161.5 282.1,161.5 282.4,161.9 282.7,162.0 283.0,161.5 283.3,161.7 283.6,162.0 283.9,162.1 284.2,162.4 284.5,162.2 284.8,162.6 285.1,162.9 285.4,163.1 285.7,163.2 286.0,162.8 286.3,163.2 286.6,163.6 286.9,163.2 287.2,163.9 287.5,164.1 287.8,163.7 288.1,163.8 288.4,163.8 288.7,164.3 289.0,164.5 289.3,164.8 289.6,163.6 289.9,164.5 290.2,164.6 290.5,164.9 290.8,164.3 291.1,165.0 291.4,164.9 291.7,164.9 292.0,165.1 292.3,165.4 292.6,165.2 292.9,164.8 293.2,165.4 293.5,166.0 293.8,165.9 294.1,165.6 294.4,166.4 294.7,166.3 295.0,166.3 295.3,165.9 295.6,166.6 295.9,166.1 296.2,166.1 296.5,167.2 296.8,166.5 297.1,167.3 297.4,166.8 297.7,166.2 298.0,167.1 298.3,167.1 298.6,167.0 298.9,166.0 299.2,167.7 299.5,167.2 299.8,167.1 300.1,167.1 300.4,167.1 300.7,167.5 301.0,167.3 301.3,167.6 301.6,168.3 301.9,167.7 302.2,167.7 302.5,167.4 302.8,168.6 303.1,168.3 303.4,168.5 303.7,168.0 304.0,168.3 304.3,169.0 304.6,168.7 304.9,170.2 305.2,168.7 305.5,169.3 305.8,169.7 306.1,169.6 306.4,169.7 306.7,169.5 307.0,169.8 307.3,169.9 307.6,169.9 307.9,169.8 308.2,170.3 308.5,169.9 308.8,169.6 309.1,170.4 309.4,170.4 309.7,170.4 310.0,170.4 310.3,170.8 310.6,169.7 310.9,169.6 311.2,170.0 311.5,170.6 311.8,171.4 312.1,171.1 312.4,171.2 312.7,170.5" stroke="#5a5a5a" stroke-width="0.95"/><polyline clip-path="url(#c172125)" points="172.0,238.0 172.3,238.0 172.6,217.8 172.9,238.0 173.2,238.0 173.5,215.8 173.8,238.0 174.1,203.6 174.4,238.0 174.7,238.0 175.0,216.2 175.3,238.0 175.6,217.7 175.9,216.4 176.2,219.0 176.5,217.9 176.8,216.1 177.1,238.0 177.4,216.7 177.7,238.0 178.0,238.0 178.3,238.0 178.6,209.3 178.9,217.7 179.2,216.1 179.5,218.4 179.8,238.0 180.1,238.0 180.4,218.4 180.7,212.3 181.0,238.0 181.3,215.4 181.6,238.0 181.9,212.6 182.2,217.5 182.5,208.2 182.8,217.6 183.1,238.0 183.4,217.3 183.7,201.9 184.0,238.0 184.3,217.2 184.6,220.5 184.9,219.2 185.2,218.0 185.5,238.0 185.8,211.2 186.1,219.4 186.4,238.0 186.7,202.1 187.0,211.6 187.3,220.6 187.6,212.2 187.9,218.6 188.2,238.0 188.5,218.3 188.8,197.0 189.1,217.9 189.4,222.7 189.7,218.2 190.0,204.8 190.3,238.0 190.6,238.0 190.9,203.6 191.2,203.4 191.5,204.6 191.8,209.3 192.1,238.0 192.4,206.4 192.7,204.0 193.0,204.6 193.3,204.2 193.6,202.7 193.9,220.4 194.2,212.2 194.5,216.8 194.8,215.0 195.1,238.0 195.4,238.0 195.7,206.3 196.0,200.9 196.3,222.4 196.6,204.6 196.9,201.3 197.2,201.5 197.5,203.6 197.8,196.4 198.1,213.9 198.4,200.8 198.7,205.7 199.0,211.3 199.3,200.2 199.6,199.8 199.9,193.5 200.2,212.1 200.5,205.3 200.8,196.8 201.1,195.2 201.4,193.6 201.7,197.0 202.0,192.8 202.3,196.1 202.6,198.9 202.9,202.6 203.2,202.5 203.5,197.2 203.8,190.2 204.1,191.2 204.4,190.5 204.7,189.7 205.0,189.1 205.3,185.9 205.6,187.0 205.9,184.6 206.2,184.5 206.5,187.8 206.8,184.2 207.1,180.7 207.4,178.1 207.7,177.2 208.0,177.7 208.3,175.5 208.6,176.1 208.9,174.9 209.2,174.0 209.5,170.4 209.8,169.8 210.1,168.1 210.4,167.8 210.7,166.2 211.0,164.6 211.3,163.6 211.6,162.1 211.9,160.8 212.2,159.9 212.5,158.7 212.8,158.4 213.1,156.6 213.4,155.5 213.7,154.3 214.0,153.1 214.3,152.1 214.6,150.7 214.9,149.8 215.2,148.5 215.5,147.6 215.8,146.2 216.1,145.2 216.4,144.2 216.7,142.8 217.0,141.7 217.3,140.8 217.6,140.4 217.9,139.8 218.2,139.0 218.5,138.5 218.8,137.8 219.1,137.5 219.4,136.8 219.7,136.3 220.0,135.6 220.3,135.2 220.6,134.3 220.9,133.9 221.2,133.2 221.5,132.6 221.8,131.9 222.1,131.7 222.4,131.8 222.7,131.8 223.0,132.2 223.3,132.1 223.6,132.3 223.9,132.3 224.2,132.4 224.5,132.8 224.8,132.6 225.1,132.8 225.4,132.8 225.7,132.8 226.0,133.1 226.3,133.2 226.6,133.2 226.9,133.3 227.2,133.5 227.5,133.8 227.8,133.8 228.1,133.8 228.4,134.0 228.7,134.0 229.0,134.2 229.3,134.3 229.6,134.3 229.9,134.5 230.2,134.5 230.5,134.9 230.8,135.0 231.1,135.0 231.4,135.1 231.7,135.2 232.0,135.4 232.3,135.6 232.6,135.7 232.9,135.7 233.2,135.8 233.5,136.0 233.8,136.1 234.1,136.2 234.4,136.3 234.7,136.6 235.0,136.5 235.3,136.7 235.6,136.9 235.9,136.7 236.2,136.8 236.5,137.1 236.8,137.4 237.1,137.3 237.4,137.4 237.7,137.9 238.0,137.8 238.3,137.9 238.6,138.0 238.9,137.9 239.2,138.2 239.5,138.3 239.8,138.2 240.1,138.6 240.4,138.6 240.7,138.7 241.0,138.7 241.3,139.1 241.6,139.4 241.9,139.2 242.2,139.4 242.5,139.9 242.8,139.6 243.1,140.0 243.4,140.1 243.7,140.4 244.0,140.6 244.3,140.5 244.6,140.7 244.9,140.7 245.2,140.9 245.5,140.9 245.8,141.4 246.1,141.3 246.4,141.5 246.7,141.7 247.0,141.7 247.3,142.1 247.6,142.1 247.9,142.2 248.2,142.5 248.5,142.4 248.8,142.9 249.1,143.0 249.4,142.9 249.7,143.2 250.0,143.2 250.3,143.4 250.6,143.3 250.9,143.7 251.2,143.9 251.5,143.8 251.8,143.9 252.1,144.2 252.4,144.3 252.7,144.9 253.0,144.6 253.3,144.6 253.6,145.0 253.9,145.2 254.2,145.3 254.5,146.0 254.8,145.6 255.1,146.0 255.4,146.3 255.7,146.4 256.0,146.7 256.3,147.2 256.6,147.0 256.9,147.3 257.2,147.4 257.5,147.7 257.8,148.0 258.1,148.1 258.4,148.4 258.7,148.6 259.0,148.7 259.3,148.9 259.6,149.7 259.9,149.6 260.2,149.3 260.5,149.8 260.8,149.9 261.1,150.4 261.4,150.4 261.7,150.5 262.0,151.1 262.3,151.2 262.6,151.6 262.9,151.7 263.2,151.9 263.5,151.7 263.8,152.1 264.1,152.1 264.4,152.3 264.7,152.4 265.0,152.8 265.3,153.2 265.6,153.0 265.9,153.3 266.2,153.3 266.5,153.4 266.8,153.7 267.1,153.6 267.4,154.2 267.7,154.4 268.0,154.5 268.3,154.6 268.6,155.2 268.9,155.6 269.2,155.9 269.5,155.5 269.8,155.7 270.1,155.9 270.4,155.8 270.7,156.3 271.0,156.2 271.3,156.8 271.6,156.5 271.9,156.4 272.2,157.2 272.5,157.5 272.8,157.9 273.1,157.6 273.4,157.7 273.7,157.8 274.0,158.1 274.3,158.6 274.6,158.8 274.9,158.7 275.2,158.4 275.5,158.8 275.8,158.7 276.1,159.8 276.4,159.5 276.7,159.8 277.0,159.2 277.3,159.3 277.6,159.7 277.9,159.5 278.2,159.8 278.5,159.8 278.8,160.0 279.1,160.0 279.4,160.9 279.7,160.5 280.0,160.5 280.3,161.3 280.6,160.5 280.9,160.6 281.2,161.0 281.5,161.4 281.8,161.5 282.1,161.5 282.4,161.9 282.7,162.0 283.0,161.5 283.3,161.7 283.6,162.0 283.9,162.1 284.2,162.4 284.5,162.2 284.8,162.6 285.1,162.9 285.4,163.1 285.7,163.2 286.0,162.8 286.3,163.2 286.6,163.6 286.9,163.2 287.2,163.9 287.5,164.1 287.8,163.7 288.1,163.8 288.4,163.8 288.7,164.3 289.0,164.5 289.3,164.8 289.6,163.6 289.9,164.5 290.2,164.6 290.5,164.9 290.8,164.3 291.1,165.0 291.4,164.9 291.7,164.9 292.0,165.1 292.3,165.4 292.6,165.2 292.9,164.8 293.2,165.4 293.5,166.0 293.8,165.9 294.1,165.6 294.4,166.4 294.7,166.3 295.0,166.3 295.3,165.9 295.6,166.6 295.9,166.1 296.2,166.1 296.5,167.2 296.8,166.5 297.1,167.3 297.4,166.8 297.7,166.2 298.0,167.1 298.3,167.1 298.6,167.0 298.9,166.0 299.2,167.7 299.5,167.2 299.8,167.1 300.1,167.1 300.4,167.1 300.7,167.5 301.0,167.3 301.3,167.6 301.6,168.3 301.9,167.7 302.2,167.7 302.5,167.4 302.8,168.6 303.1,168.3 303.4,168.5 303.7,168.0 304.0,168.3 304.3,169.0 304.6,168.7 304.9,170.2 305.2,168.7 305.5,169.3 305.8,169.7 306.1,169.6 306.4,169.7 306.7,169.5 307.0,169.8 307.3,169.9 307.6,169.9 307.9,169.8 308.2,170.3 308.5,169.9 308.8,169.6 309.1,170.4 309.4,170.4 309.7,170.4 310.0,170.4 310.3,170.8 310.6,169.7 310.9,169.6 311.2,170.0 311.5,170.6 311.8,171.4 312.1,171.1 312.4,171.2 312.7,170.5 313.0,171.0" stroke="url(#g3)" stroke-width="0.75"/><polyline clip-path="url(#c172125)" points="200.2,238.0 200.6,238.0 201.0,230.6 201.4,238.0 201.8,238.0 202.2,238.0 202.6,229.8 203.0,238.0 203.4,238.0 203.8,238.0 204.2,238.0 204.6,238.0 205.0,238.0 205.4,238.0 205.8,238.0 206.2,238.0 206.6,238.0 207.0,218.9 207.4,224.3 207.8,213.1 208.2,203.2 208.6,201.1 209.0,198.8 209.4,195.8 209.8,191.9 210.2,192.5 210.6,188.4 211.0,186.7 211.4,183.1 211.8,180.3 212.2,179.1 212.6,175.8 213.0,174.9 213.4,173.7 213.8,171.3 214.2,171.6 214.6,171.2 215.0,168.8 215.4,167.0 215.8,164.8 216.2,165.0 216.6,161.6 217.0,159.7 217.4,159.2 217.8,158.0 218.2,156.6 218.6,155.3 219.0,154.2 219.4,152.7 219.8,151.5 220.2,150.1 220.6,149.8 221.0,150.0 221.4,149.6 221.8,149.7 222.2,149.3 222.6,149.3 223.0,149.1 223.4,149.9 223.8,149.8 224.2,149.8 224.6,150.5 225.0,151.0 225.4,150.4 225.8,151.1 226.2,150.9 226.6,151.5 227.0,151.4 227.4,152.0 227.8,151.8 228.2,151.8 228.6,151.9 229.0,152.3 229.4,152.3 229.8,152.7 230.2,152.6 230.6,153.2 231.0,153.1 231.4,153.3 231.8,154.1 232.2,153.9 232.6,154.1 233.0,154.5 233.4,154.2 233.8,154.5 234.2,155.0 234.6,155.3 235.0,155.4 235.4,155.8 235.8,155.6 236.2,156.4 236.6,155.9 237.0,155.7 237.4,156.8 237.8,156.4 238.2,156.5 238.6,156.7 239.0,156.6 239.4,157.3 239.8,157.1 240.2,157.7 240.6,158.0 241.0,158.8 241.4,158.4 241.8,158.1 242.2,159.4 242.6,158.9 243.0,158.9 243.4,159.7 243.8,159.8 244.2,159.2 244.6,160.0 245.0,160.4 245.4,160.6 245.8,161.0 246.2,161.2 246.6,160.6 247.0,161.3 247.4,161.2 247.8,161.3 248.2,162.4 248.6,162.8 249.0,161.8 249.4,162.9 249.8,162.4 250.2,162.4 250.6,163.4 251.0,162.7 251.4,163.2 251.8,164.2 252.2,164.6 252.6,164.5 253.0,164.5 253.4,164.8 253.8,165.0 254.2,165.8 254.6,166.2 255.0,164.6 255.4,165.1 255.8,165.8 256.2,166.8 256.6,167.3 257.0,165.5 257.4,166.9 257.8,166.9 258.2,169.8 258.6,167.5 259.0,168.9 259.4,167.7 259.8,168.9 260.2,168.3 260.6,170.0 261.0,168.9 261.4,169.4 261.8,169.7" stroke="#111" stroke-width="1.25"/><polyline clip-path="url(#c172125)" points="193.0,238.0 193.4,238.0 193.8,238.0 194.2,238.0 194.6,238.0 195.0,234.7 195.4,238.0 195.8,233.1 196.2,238.0 196.6,238.0 197.0,229.9 197.4,238.0 197.8,238.0 198.2,238.0 198.6,238.0 199.0,238.0 199.4,238.0 199.8,238.0 200.2,238.0 200.6,238.0 201.0,230.6 201.4,238.0 201.8,238.0 202.2,238.0 202.6,229.8 203.0,238.0 203.4,238.0 203.8,238.0 204.2,238.0 204.6,238.0 205.0,238.0 205.4,238.0 205.8,238.0 206.2,238.0 206.6,238.0 207.0,218.9 207.4,224.3 207.8,213.1 208.2,203.2 208.6,201.1 209.0,198.8 209.4,195.8 209.8,191.9 210.2,192.5 210.6,188.4 211.0,186.7 211.4,183.1 211.8,180.3 212.2,179.1 212.6,175.8 213.0,174.9 213.4,173.7 213.8,171.3 214.2,171.6 214.6,171.2 215.0,168.8 215.4,167.0 215.8,164.8 216.2,165.0 216.6,161.6 217.0,159.7 217.4,159.2 217.8,158.0 218.2,156.6 218.6,155.3 219.0,154.2 219.4,152.7 219.8,151.5 220.2,150.1 220.6,149.8 221.0,150.0 221.4,149.6 221.8,149.7 222.2,149.3 222.6,149.3 223.0,149.1 223.4,149.9 223.8,149.8 224.2,149.8 224.6,150.5 225.0,151.0 225.4,150.4 225.8,151.1 226.2,150.9 226.6,151.5 227.0,151.4 227.4,152.0 227.8,151.8 228.2,151.8 228.6,151.9 229.0,152.3 229.4,152.3 229.8,152.7 230.2,152.6 230.6,153.2 231.0,153.1 231.4,153.3 231.8,154.1 232.2,153.9 232.6,154.1 233.0,154.5 233.4,154.2 233.8,154.5 234.2,155.0 234.6,155.3 235.0,155.4 235.4,155.8 235.8,155.6 236.2,156.4 236.6,155.9 237.0,155.7 237.4,156.8 237.8,156.4 238.2,156.5 238.6,156.7 239.0,156.6 239.4,157.3 239.8,157.1 240.2,157.7 240.6,158.0 241.0,158.8 241.4,158.4 241.8,158.1 242.2,159.4 242.6,158.9 243.0,158.9 243.4,159.7 243.8,159.8 244.2,159.2 244.6,160.0 245.0,160.4 245.4,160.6 245.8,161.0 246.2,161.2 246.6,160.6 247.0,161.3 247.4,161.2 247.8,161.3 248.2,162.4 248.6,162.8 249.0,161.8 249.4,162.9 249.8,162.4 250.2,162.4 250.6,163.4 251.0,162.7 251.4,163.2 251.8,164.2 252.2,164.6 252.6,164.5 253.0,164.5 253.4,164.8 253.8,165.0 254.2,165.8 254.6,166.2 255.0,164.6 255.4,165.1 255.8,165.8 256.2,166.8 256.6,167.3 257.0,165.5 257.4,166.9 257.8,166.9 258.2,169.8 258.6,167.5 259.0,168.9 259.4,167.7 259.8,168.9 260.2,168.3 260.6,170.0 261.0,168.9 261.4,169.4 261.8,169.7 262.2,169.7 262.6,170.1 263.0,170.3 263.4,171.3 263.8,169.4 264.2,170.8 264.6,169.8 265.0,172.3 265.4,171.2 265.8,172.0 266.2,172.6 266.6,171.9 267.0,172.3 267.4,172.8 267.8,172.4 268.2,171.1 268.6,171.8 269.0,172.7 269.4,172.3 269.8,174.6 270.2,174.0 270.6,173.4 271.0,173.6 271.4,174.2 271.8,174.2 272.2,176.2 272.6,175.6 273.0,175.2 273.4,174.8 273.8,175.8 274.2,176.5 274.6,175.5 275.0,174.1 275.4,175.6 275.8,175.9 276.2,177.7 276.6,175.7 277.0,174.6 277.4,176.0 277.8,178.0 278.2,178.2 278.6,177.3 279.0,175.7 279.4,175.4 279.8,176.7 280.2,178.3 280.6,177.8 281.0,179.7 281.4,178.2 281.8,178.6 282.2,181.0 282.6,180.2 283.0,179.8 283.4,179.6 283.8,183.4 284.2,178.5 284.6,182.6 285.0,180.0 285.4,181.2 285.8,178.9 286.2,181.9 286.6,181.4 287.0,179.0 287.4,179.5 287.8,181.6 288.2,183.8 288.6,183.0 289.0,181.9 289.4,181.7 289.8,183.6 290.2,183.0 290.6,182.9 291.0,184.2 291.4,183.0 291.8,184.5 292.2,181.9 292.6,185.0 293.0,181.4 293.4,181.3 293.8,181.2 294.2,182.4 294.6,185.6 295.0,185.9 295.4,185.7 295.8,185.2 296.2,183.7 296.6,183.5 297.0,186.2 297.4,184.9 297.8,190.4 298.2,185.5 298.6,184.9 299.0,189.1 299.4,186.0 299.8,184.2 300.2,186.4 300.6,185.0 301.0,182.8 301.4,186.5 301.8,186.3 302.2,187.7 302.6,186.2 303.0,184.4 303.4,184.4 303.8,186.7 304.2,188.0 304.6,183.1 305.0,184.6 305.4,188.9 305.8,187.0 306.2,191.3 306.6,187.1 307.0,186.5 307.4,187.2 307.8,186.8 308.2,185.7 308.6,186.7 309.0,186.7 309.4,185.0 309.8,190.1 310.2,189.6 310.6,185.8 311.0,189.6 311.4,189.4 311.8,185.9 312.2,189.2 312.6,191.8 313.0,191.4" stroke="#111" stroke-width="0.75"/></g>
<g stroke="#222" stroke-width="1.1" stroke-dasharray="1.3 3.7" fill="none"><line clip-path="url(#c3115)" x1="67.31" y1="78.96" x2="108.64" y2="13.75"/><line clip-path="url(#c17215)" x1="208.31" y1="78.96" x2="249.64" y2="13.75"/><line clip-path="url(#c31125)" x1="67.31" y1="188.96" x2="108.64" y2="123.75"/><line clip-path="url(#c172125)" x1="208.31" y1="188.96" x2="249.64" y2="123.75"/></g>
<g><line x1="48.7" y1="77.4" x2="49.4" y2="90" stroke="#777" stroke-width="1.2"/><line x1="189.1" y1="77.6" x2="189.8" y2="91.3" stroke="#777" stroke-width="1.2"/><line x1="54.5" y1="186.4" x2="56.1" y2="201" stroke="#777" stroke-width="1.2"/><line x1="189.9" y1="187" x2="191.3" y2="201.6" stroke="#777" stroke-width="1.2"/><line x1="68" y1="112.2" x2="81" y2="106.9" stroke="#000" stroke-width="1.8"/><line x1="209.1" y1="105.6" x2="221.8" y2="100.5" stroke="#000" stroke-width="1.8"/><line x1="68.3" y1="220.3" x2="81.8" y2="215" stroke="#000" stroke-width="1.8"/><line x1="208.6" y1="220.2" x2="222.8" y2="214.7" stroke="#000" stroke-width="1.8"/></g>
<g fill="none" stroke="#000" stroke-width="1"><path d="M31.5 15.5v4M31.5 125.5v-4M38.55 15.5v2M38.55 125.5v-2M45.6 15.5v2M45.6 125.5v-2M52.65 15.5v2M52.65 125.5v-2M59.7 15.5v2M59.7 125.5v-2M66.75 15.5v4M66.75 125.5v-4M73.8 15.5v2M73.8 125.5v-2M80.85 15.5v2M80.85 125.5v-2M87.9 15.5v2M87.9 125.5v-2M94.95 15.5v2M94.95 125.5v-2M102.0 15.5v4M102.0 125.5v-4M109.05 15.5v2M109.05 125.5v-2M116.1 15.5v2M116.1 125.5v-2M123.15 15.5v2M123.15 125.5v-2M130.2 15.5v2M130.2 125.5v-2M137.25 15.5v4M137.25 125.5v-4M144.3 15.5v2M144.3 125.5v-2M151.35 15.5v2M151.35 125.5v-2M158.4 15.5v2M158.4 125.5v-2M165.45 15.5v2M165.45 125.5v-2M172.5 15.5v4M172.5 125.5v-4M31.5 125.5h3.5M172.5 125.5h-3.5M31.5 117.8h2M172.5 117.8h-2M31.5 113.3h2M172.5 113.3h-2M31.5 110.1h2M172.5 110.1h-2M31.5 107.62h2M172.5 107.62h-2M31.5 105.6h2M172.5 105.6h-2M31.5 103.89h2M172.5 103.89h-2M31.5 102.4h2M172.5 102.4h-2M31.5 101.09h2M172.5 101.09h-2M31.5 99.92h3.5M172.5 99.92h-3.5M31.5 92.23h2M172.5 92.23h-2M31.5 87.72h2M172.5 87.72h-2M31.5 84.53h2M172.5 84.53h-2M31.5 82.05h2M172.5 82.05h-2M31.5 80.02h2M172.5 80.02h-2M31.5 78.31h2M172.5 78.31h-2M31.5 76.83h2M172.5 76.83h-2M31.5 75.52h2M172.5 75.52h-2M31.5 74.35h3.5M172.5 74.35h-3.5M31.5 66.65h2M172.5 66.65h-2M31.5 62.15h2M172.5 62.15h-2M31.5 58.95h2M172.5 58.95h-2M31.5 56.47h2M172.5 56.47h-2M31.5 54.45h2M172.5 54.45h-2M31.5 52.74h2M172.5 52.74h-2M31.5 51.25h2M172.5 51.25h-2M31.5 49.94h2M172.5 49.94h-2M31.5 48.77h3.5M172.5 48.77h-3.5M31.5 41.08h2M172.5 41.08h-2M31.5 36.57h2M172.5 36.57h-2M31.5 33.38h2M172.5 33.38h-2M31.5 30.9h2M172.5 30.9h-2M31.5 28.87h2M172.5 28.87h-2M31.5 27.16h2M172.5 27.16h-2M31.5 25.68h2M172.5 25.68h-2M31.5 24.37h2M172.5 24.37h-2M31.5 23.2h3.5M172.5 23.2h-3.5M31.5 15.5h2M172.5 15.5h-2M172.5 15.5v4M172.5 125.5v-4M179.55 15.5v2M179.55 125.5v-2M186.6 15.5v2M186.6 125.5v-2M193.65 15.5v2M193.65 125.5v-2M200.7 15.5v2M200.7 125.5v-2M207.75 15.5v4M207.75 125.5v-4M214.8 15.5v2M214.8 125.5v-2M221.85 15.5v2M221.85 125.5v-2M228.9 15.5v2M228.9 125.5v-2M235.95 15.5v2M235.95 125.5v-2M243.0 15.5v4M243.0 125.5v-4M250.05 15.5v2M250.05 125.5v-2M257.1 15.5v2M257.1 125.5v-2M264.15 15.5v2M264.15 125.5v-2M271.2 15.5v2M271.2 125.5v-2M278.25 15.5v4M278.25 125.5v-4M285.3 15.5v2M285.3 125.5v-2M292.35 15.5v2M292.35 125.5v-2M299.4 15.5v2M299.4 125.5v-2M306.45 15.5v2M306.45 125.5v-2M313.5 15.5v4M313.5 125.5v-4M172.5 125.5h3.5M313.5 125.5h-3.5M172.5 117.8h2M313.5 117.8h-2M172.5 113.3h2M313.5 113.3h-2M172.5 110.1h2M313.5 110.1h-2M172.5 107.62h2M313.5 107.62h-2M172.5 105.6h2M313.5 105.6h-2M172.5 103.89h2M313.5 103.89h-2M172.5 102.4h2M313.5 102.4h-2M172.5 101.09h2M313.5 101.09h-2M172.5 99.92h3.5M313.5 99.92h-3.5M172.5 92.23h2M313.5 92.23h-2M172.5 87.72h2M313.5 87.72h-2M172.5 84.53h2M313.5 84.53h-2M172.5 82.05h2M313.5 82.05h-2M172.5 80.02h2M313.5 80.02h-2M172.5 78.31h2M313.5 78.31h-2M172.5 76.83h2M313.5 76.83h-2M172.5 75.52h2M313.5 75.52h-2M172.5 74.35h3.5M313.5 74.35h-3.5M172.5 66.65h2M313.5 66.65h-2M172.5 62.15h2M313.5 62.15h-2M172.5 58.95h2M313.5 58.95h-2M172.5 56.47h2M313.5 56.47h-2M172.5 54.45h2M313.5 54.45h-2M172.5 52.74h2M313.5 52.74h-2M172.5 51.25h2M313.5 51.25h-2M172.5 49.94h2M313.5 49.94h-2M172.5 48.77h3.5M313.5 48.77h-3.5M172.5 41.08h2M313.5 41.08h-2M172.5 36.57h2M313.5 36.57h-2M172.5 33.38h2M313.5 33.38h-2M172.5 30.9h2M313.5 30.9h-2M172.5 28.87h2M313.5 28.87h-2M172.5 27.16h2M313.5 27.16h-2M172.5 25.68h2M313.5 25.68h-2M172.5 24.37h2M313.5 24.37h-2M172.5 23.2h3.5M313.5 23.2h-3.5M172.5 15.5h2M313.5 15.5h-2M31.5 125.5v4M31.5 235.5v-4M38.55 125.5v2M38.55 235.5v-2M45.6 125.5v2M45.6 235.5v-2M52.65 125.5v2M52.65 235.5v-2M59.7 125.5v2M59.7 235.5v-2M66.75 125.5v4M66.75 235.5v-4M73.8 125.5v2M73.8 235.5v-2M80.85 125.5v2M80.85 235.5v-2M87.9 125.5v2M87.9 235.5v-2M94.95 125.5v2M94.95 235.5v-2M102.0 125.5v4M102.0 235.5v-4M109.05 125.5v2M109.05 235.5v-2M116.1 125.5v2M116.1 235.5v-2M123.15 125.5v2M123.15 235.5v-2M130.2 125.5v2M130.2 235.5v-2M137.25 125.5v4M137.25 235.5v-4M144.3 125.5v2M144.3 235.5v-2M151.35 125.5v2M151.35 235.5v-2M158.4 125.5v2M158.4 235.5v-2M165.45 125.5v2M165.45 235.5v-2M172.5 125.5v4M172.5 235.5v-4M31.5 235.5h3.5M172.5 235.5h-3.5M31.5 227.8h2M172.5 227.8h-2M31.5 223.3h2M172.5 223.3h-2M31.5 220.1h2M172.5 220.1h-2M31.5 217.62h2M172.5 217.62h-2M31.5 215.6h2M172.5 215.6h-2M31.5 213.89h2M172.5 213.89h-2M31.5 212.4h2M172.5 212.4h-2M31.5 211.09h2M172.5 211.09h-2M31.5 209.92h3.5M172.5 209.92h-3.5M31.5 202.23h2M172.5 202.23h-2M31.5 197.72h2M172.5 197.72h-2M31.5 194.53h2M172.5 194.53h-2M31.5 192.05h2M172.5 192.05h-2M31.5 190.02h2M172.5 190.02h-2M31.5 188.31h2M172.5 188.31h-2M31.5 186.83h2M172.5 186.83h-2M31.5 185.52h2M172.5 185.52h-2M31.5 184.35h3.5M172.5 184.35h-3.5M31.5 176.65h2M172.5 176.65h-2M31.5 172.15h2M172.5 172.15h-2M31.5 168.95h2M172.5 168.95h-2M31.5 166.47h2M172.5 166.47h-2M31.5 164.45h2M172.5 164.45h-2M31.5 162.74h2M172.5 162.74h-2M31.5 161.25h2M172.5 161.25h-2M31.5 159.94h2M172.5 159.94h-2M31.5 158.77h3.5M172.5 158.77h-3.5M31.5 151.08h2M172.5 151.08h-2M31.5 146.57h2M172.5 146.57h-2M31.5 143.38h2M172.5 143.38h-2M31.5 140.9h2M172.5 140.9h-2M31.5 138.87h2M172.5 138.87h-2M31.5 137.16h2M172.5 137.16h-2M31.5 135.68h2M172.5 135.68h-2M31.5 134.37h2M172.5 134.37h-2M31.5 133.2h3.5M172.5 133.2h-3.5M31.5 125.5h2M172.5 125.5h-2M172.5 125.5v4M172.5 235.5v-4M179.55 125.5v2M179.55 235.5v-2M186.6 125.5v2M186.6 235.5v-2M193.65 125.5v2M193.65 235.5v-2M200.7 125.5v2M200.7 235.5v-2M207.75 125.5v4M207.75 235.5v-4M214.8 125.5v2M214.8 235.5v-2M221.85 125.5v2M221.85 235.5v-2M228.9 125.5v2M228.9 235.5v-2M235.95 125.5v2M235.95 235.5v-2M243.0 125.5v4M243.0 235.5v-4M250.05 125.5v2M250.05 235.5v-2M257.1 125.5v2M257.1 235.5v-2M264.15 125.5v2M264.15 235.5v-2M271.2 125.5v2M271.2 235.5v-2M278.25 125.5v4M278.25 235.5v-4M285.3 125.5v2M285.3 235.5v-2M292.35 125.5v2M292.35 235.5v-2M299.4 125.5v2M299.4 235.5v-2M306.45 125.5v2M306.45 235.5v-2M313.5 125.5v4M313.5 235.5v-4M172.5 235.5h3.5M313.5 235.5h-3.5M172.5 227.8h2M313.5 227.8h-2M172.5 223.3h2M313.5 223.3h-2M172.5 220.1h2M313.5 220.1h-2M172.5 217.62h2M313.5 217.62h-2M172.5 215.6h2M313.5 215.6h-2M172.5 213.89h2M313.5 213.89h-2M172.5 212.4h2M313.5 212.4h-2M172.5 211.09h2M313.5 211.09h-2M172.5 209.92h3.5M313.5 209.92h-3.5M172.5 202.23h2M313.5 202.23h-2M172.5 197.72h2M313.5 197.72h-2M172.5 194.53h2M313.5 194.53h-2M172.5 192.05h2M313.5 192.05h-2M172.5 190.02h2M313.5 190.02h-2M172.5 188.31h2M313.5 188.31h-2M172.5 186.83h2M313.5 186.83h-2M172.5 185.52h2M313.5 185.52h-2M172.5 184.35h3.5M313.5 184.35h-3.5M172.5 176.65h2M313.5 176.65h-2M172.5 172.15h2M313.5 172.15h-2M172.5 168.95h2M313.5 168.95h-2M172.5 166.47h2M313.5 166.47h-2M172.5 164.45h2M313.5 164.45h-2M172.5 162.74h2M313.5 162.74h-2M172.5 161.25h2M313.5 161.25h-2M172.5 159.94h2M313.5 159.94h-2M172.5 158.77h3.5M313.5 158.77h-3.5M172.5 151.08h2M313.5 151.08h-2M172.5 146.57h2M313.5 146.57h-2M172.5 143.38h2M313.5 143.38h-2M172.5 140.9h2M313.5 140.9h-2M172.5 138.87h2M313.5 138.87h-2M172.5 137.16h2M313.5 137.16h-2M172.5 135.68h2M313.5 135.68h-2M172.5 134.37h2M313.5 134.37h-2M172.5 133.2h3.5M313.5 133.2h-3.5M172.5 125.5h2M313.5 125.5h-2" stroke-width="0.8"/><rect x="31.5" y="15.5" width="141" height="110"/><rect x="172.5" y="15.5" width="141" height="110"/><rect x="31.5" y="125.5" width="141" height="110"/><rect x="172.5" y="125.5" width="141" height="110"/></g>
<g fill="#3a3a3a" font-family="'Liberation Sans', Arial, sans-serif"><text x="31" y="8.7" text-anchor="middle" font-size="9.0" >-50</text><text x="31" y="246.2" text-anchor="middle" font-size="9.0" >-50</text><text x="66.25" y="8.7" text-anchor="middle" font-size="9.0" >-25</text><text x="66.25" y="246.2" text-anchor="middle" font-size="9.0" >-25</text><text x="101.5" y="8.7" text-anchor="middle" font-size="9.0" >0</text><text x="101.5" y="246.2" text-anchor="middle" font-size="9.0" >0</text><text x="136.75" y="8.7" text-anchor="middle" font-size="9.0" >25</text><text x="136.75" y="246.2" text-anchor="middle" font-size="9.0" >25</text><text x="172" y="8.7" text-anchor="middle" font-size="9.0" >0</text><text x="172" y="246.2" text-anchor="middle" font-size="9.0" >0</text><text x="207.25" y="8.7" text-anchor="middle" font-size="9.0" >-25</text><text x="207.25" y="246.2" text-anchor="middle" font-size="9.0" >-25</text><text x="242.5" y="8.7" text-anchor="middle" font-size="9.0" >0</text><text x="242.5" y="246.2" text-anchor="middle" font-size="9.0" >0</text><text x="277.75" y="8.7" text-anchor="middle" font-size="9.0" >25</text><text x="277.75" y="246.2" text-anchor="middle" font-size="9.0" >25</text><text x="313" y="8.7" text-anchor="middle" font-size="9.0" >50</text><text x="313" y="246.2" text-anchor="middle" font-size="9.0" >50</text><text x="23.1" y="128.30" text-anchor="end" font-size="8.4">10</text><text x="24.4" y="123.20" font-size="4.0" font-weight="bold" fill="#222">0</text><text x="23.1" y="102.72" text-anchor="end" font-size="8.4">10</text><text x="24.4" y="97.62" font-size="4.0" font-weight="bold" fill="#222">1</text><text x="23.1" y="77.15" text-anchor="end" font-size="8.4">10</text><text x="24.4" y="72.05" font-size="4.0" font-weight="bold" fill="#222">2</text><text x="23.1" y="51.57" text-anchor="end" font-size="8.4">10</text><text x="24.4" y="46.47" font-size="4.0" font-weight="bold" fill="#222">3</text><text x="23.1" y="26.00" text-anchor="end" font-size="8.4">10</text><text x="24.4" y="20.90" font-size="4.0" font-weight="bold" fill="#222">4</text><text x="23.1" y="238.30" text-anchor="end" font-size="8.4">10</text><text x="24.4" y="233.20" font-size="4.0" font-weight="bold" fill="#222">0</text><text x="23.1" y="212.72" text-anchor="end" font-size="8.4">10</text><text x="24.4" y="207.62" font-size="4.0" font-weight="bold" fill="#222">1</text><text x="23.1" y="187.15" text-anchor="end" font-size="8.4">10</text><text x="24.4" y="182.05" font-size="4.0" font-weight="bold" fill="#222">2</text><text x="23.1" y="161.57" text-anchor="end" font-size="8.4">10</text><text x="24.4" y="156.47" font-size="4.0" font-weight="bold" fill="#222">3</text><text x="23.1" y="136.00" text-anchor="end" font-size="8.4">10</text><text x="24.4" y="130.90" font-size="4.0" font-weight="bold" fill="#222">4</text><text x="318.3" y="128.30" font-size="8.4">10</text><text x="327.6" y="122.70" font-size="4.0" font-weight="bold" fill="#222">0</text><text x="318.3" y="102.72" font-size="8.4">10</text><text x="327.6" y="97.12" font-size="4.0" font-weight="bold" fill="#222">1</text><text x="318.3" y="77.15" font-size="8.4">10</text><text x="327.6" y="71.55" font-size="4.0" font-weight="bold" fill="#222">2</text><text x="318.3" y="51.57" font-size="8.4">10</text><text x="327.6" y="45.97" font-size="4.0" font-weight="bold" fill="#222">3</text><text x="318.3" y="26.00" font-size="8.4">10</text><text x="327.6" y="20.40" font-size="4.0" font-weight="bold" fill="#222">4</text><text x="318.3" y="238.30" font-size="8.4">10</text><text x="327.6" y="232.70" font-size="4.0" font-weight="bold" fill="#222">0</text><text x="318.3" y="212.72" font-size="8.4">10</text><text x="327.6" y="207.12" font-size="4.0" font-weight="bold" fill="#222">1</text><text x="318.3" y="187.15" font-size="8.4">10</text><text x="327.6" y="181.55" font-size="4.0" font-weight="bold" fill="#222">2</text><text x="318.3" y="161.57" font-size="8.4">10</text><text x="327.6" y="155.97" font-size="4.0" font-weight="bold" fill="#222">3</text><text x="318.3" y="136.00" font-size="8.4">10</text><text x="327.6" y="130.40" font-size="4.0" font-weight="bold" fill="#222">4</text><text x="39.1" y="29.9" font-size="10" font-weight="bold" fill="#111" textLength="9.6">a)</text><text x="180.1" y="29.9" font-size="10" font-weight="bold" fill="#111" textLength="9.6">b)</text><text x="39.1" y="139.9" font-size="10" font-weight="bold" fill="#111" textLength="9.6">c)</text><text x="180.1" y="139.9" font-size="10" font-weight="bold" fill="#111" textLength="9.6">d)</text><text x="120.85" y="30.8" font-size="8.2" textLength="36.8">300 eV O</text><text x="161.2" y="26.2" font-size="4.6" text-anchor="middle">+</text><text x="160.7" y="34.4" font-size="4.6" text-anchor="middle">2</text><text x="260.35" y="31.0" font-size="8.2" textLength="36.3">500 eV O</text><text x="300.2" y="26.4" font-size="4.6" text-anchor="middle">+</text><text x="299.6" y="34.6" font-size="4.6" text-anchor="middle">2</text><text x="127.3" y="141.9" font-size="8.2" textLength="31.9">1 keV O</text><text x="161.8" y="137.3" font-size="4.6" text-anchor="middle">+</text><text x="161.4" y="145.5" font-size="4.6" text-anchor="middle">2</text><text x="269.95" y="140.2" font-size="8.2" textLength="28.85">2keV O</text><text x="301.1" y="135.6" font-size="4.6" text-anchor="middle">+</text><text x="300.8" y="143.8" font-size="4.6" text-anchor="middle">2</text><g fill="#6e6e6e"><text x="39.7" y="68.3" font-size="4.6">12</text><text x="45.0" y="72.89999999999999" font-size="8.9">C</text><text x="51.6" y="67.7" font-size="4.6">+</text></g><g fill="#6e6e6e"><text x="180.3" y="69.6" font-size="4.6">12</text><text x="185.60000000000002" y="74.19999999999999" font-size="8.9">C</text><text x="192.20000000000002" y="69.0" font-size="4.6">+</text></g><g fill="#6e6e6e"><text x="44.5" y="176.8" font-size="4.6">12</text><text x="49.8" y="181.4" font-size="8.9">C</text><text x="56.4" y="176.20000000000002" font-size="4.6">+</text></g><g fill="#6e6e6e"><text x="180.1" y="178.6" font-size="4.6">12</text><text x="185.4" y="183.2" font-size="8.9">C</text><text x="192.0" y="178.0" font-size="4.6">+</text></g><text x="82" y="105.2" font-size="4.6">11</text><text x="87.3" y="110.4" font-size="9.9">B</text><text x="93.9" y="105.3" font-size="4.6">+</text><text x="223" y="97.6" font-size="4.6">11</text><text x="228.3" y="102.8" font-size="9.9">B</text><text x="234.9" y="97.69999999999999" font-size="4.6">+</text><text x="84" y="209" font-size="4.6">11</text><text x="89.3" y="214.2" font-size="9.9">B</text><text x="95.9" y="209.1" font-size="4.6">+</text><text x="222" y="211.2" font-size="4.6">11</text><text x="227.3" y="216.39999999999998" font-size="9.9">B</text><text x="233.9" y="211.29999999999998" font-size="4.6">+</text><text transform="translate(9.6 71.2) rotate(-90)" text-anchor="middle" font-size="8.6" font-style="italic" textLength="86.5">Intensity / (counts s<tspan font-size="5.0" dy="-3.2">-1</tspan><tspan dy="3.2">)</tspan></text><text transform="translate(9.6 179.5) rotate(-90)" text-anchor="middle" font-size="8.6" font-style="italic" textLength="85.7">Intensity / (counts s<tspan font-size="5.0" dy="-3.2">-1</tspan><tspan dy="3.2">)</tspan></text><text x="103.8" y="257.8" text-anchor="middle" font-size="9.0" textLength="76.5">Target potential / V</text><text x="244.5" y="257.8" text-anchor="middle" font-size="9.0" textLength="76.5">Target potential / V</text></g>
</svg>
</body></html>
